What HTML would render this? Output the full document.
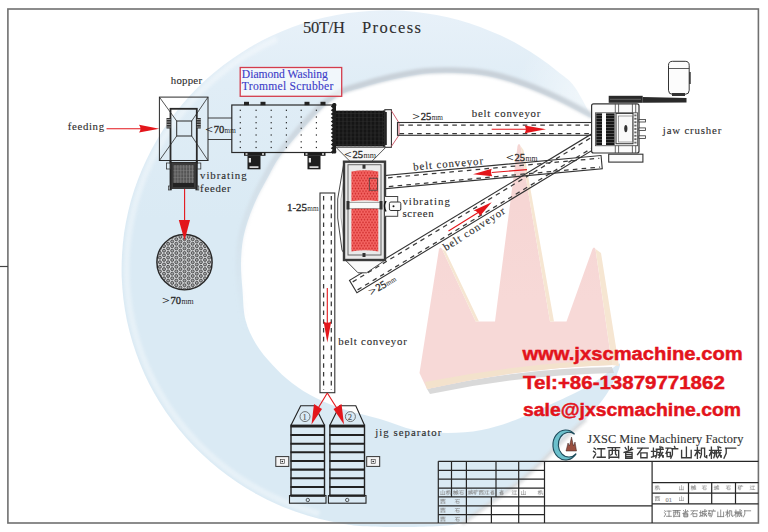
<!DOCTYPE html><html><head><meta charset="utf-8"><style>html,body{margin:0;padding:0;background:#ffffff;overflow:hidden}svg{display:block}</style></head><body><svg width="768" height="532" viewBox="0 0 768 532"><defs><filter id="blur1" x="-5%" y="-5%" width="110%" height="110%"><feGaussianBlur stdDeviation="1.5"/></filter><filter id="blur05"><feGaussianBlur stdDeviation="0.4"/></filter></defs><rect width="768" height="532" fill="#ffffff"/><linearGradient id="crg" x1="0" y1="10" x2="0" y2="220" gradientUnits="userSpaceOnUse"><stop offset="0" stop-color="#e8f1f9"/><stop offset="0.35" stop-color="#e0edf6"/><stop offset="1" stop-color="#daeaf4"/></linearGradient>
<path d="M592.0,118.0 C589.2,112.7 580.1,94.1 574.3,86.4 C568.6,78.6 563.5,76.2 557.7,71.4 C552.0,66.7 546.0,62.1 539.8,57.9 C533.7,53.6 527.3,49.6 520.8,45.9 C514.3,42.2 507.7,38.7 500.9,35.6 C494.1,32.4 487.1,29.5 480.1,26.9 C473.0,24.3 465.8,22.0 458.6,20.0 C451.3,18.0 444.0,16.3 436.6,14.9 C429.2,13.6 421.7,12.5 414.2,11.7 C406.7,10.9 399.2,10.5 391.6,10.3 C384.1,10.2 376.5,10.4 369.0,10.9 C361.5,11.4 354.0,12.2 346.5,13.3 C339.1,14.4 331.7,15.8 324.3,17.5 C317.0,19.3 309.8,21.3 302.6,23.6 C295.5,26.0 288.4,28.6 281.5,31.5 C274.6,34.4 267.8,37.6 261.1,41.1 C254.5,44.6 248.0,48.4 241.7,52.4 C235.4,56.4 229.2,60.7 223.3,65.2 C217.4,69.7 211.6,74.5 206.1,79.5 C200.6,84.5 195.3,89.8 190.2,95.2 C185.1,100.7 180.3,106.4 175.8,112.2 C171.2,118.1 166.9,124.1 162.8,130.3 C158.8,136.5 155.0,142.9 151.5,149.4 C148.1,156.0 144.9,162.6 142.0,169.4 C139.1,176.2 136.5,183.1 134.2,190.1 C131.9,197.1 129.9,204.3 128.2,211.4 C126.5,218.6 125.2,225.8 124.1,233.1 C123.1,240.4 122.4,247.7 122.0,255.1 C121.6,262.4 121.5,269.8 121.7,277.1 C122.0,284.5 122.5,291.8 123.4,299.1 C124.3,306.4 125.5,313.7 127.0,320.9 C128.6,328.1 130.4,335.3 132.5,342.3 C134.7,349.4 137.1,356.3 139.9,363.2 C142.6,370.0 145.7,376.8 149.0,383.4 C152.4,389.9 156.0,396.4 159.9,402.7 C163.8,409.0 168.0,415.1 172.4,421.1 C176.9,427.0 181.6,432.8 186.5,438.3 C191.5,443.9 196.7,449.2 202.1,454.3 C207.5,459.5 213.1,464.4 219.0,469.0 C224.8,473.7 230.9,478.1 237.1,482.2 C243.3,486.4 249.7,490.3 256.3,493.9 C262.8,497.5 269.6,500.8 276.4,503.9 C283.3,507.0 290.3,509.7 297.4,512.2 C304.5,514.7 311.7,516.9 319.0,518.7 C326.3,520.6 333.7,522.2 341.1,523.5 C348.5,524.7 352.9,525.7 363.5,526.3 C374.2,526.9 392.3,527.1 405.0,527.0 C417.7,526.9 430.5,526.7 440.0,526.0 C449.5,525.3 456.3,524.8 462.0,523.0 C467.7,521.2 468.3,519.0 474.0,515.0 C479.7,511.0 488.6,504.3 496.0,499.0 C503.4,493.7 510.7,489.3 518.5,483.0 C526.3,476.7 535.6,468.2 543.0,461.0 C550.4,453.8 555.8,447.0 563.0,440.0 C570.2,433.0 578.5,427.0 586.0,419.0 C593.5,411.0 602.3,401.2 608.0,392.0 C613.7,382.8 620.8,366.7 620.0,364.0 C619.2,361.3 609.6,371.8 603.4,376.0 C597.2,380.2 592.0,384.2 583.0,389.0 C574.0,393.8 560.6,399.8 549.3,405.0 C538.0,410.2 526.7,415.8 515.4,420.0 C504.1,424.2 492.9,427.8 481.6,430.0 C470.3,432.2 459.0,433.0 447.7,433.0 C436.4,433.0 425.3,432.3 414.0,430.0 C402.7,427.7 391.3,422.3 380.0,419.0 C368.7,415.7 356.7,413.5 346.0,410.0 C335.3,406.5 325.0,402.5 316.0,398.0 C307.0,393.5 299.2,388.5 292.0,383.0 C284.8,377.5 278.6,371.5 272.6,365.0 C266.6,358.5 260.5,351.5 256.0,344.0 C251.5,336.5 247.8,329.0 245.5,320.0 C243.2,311.0 243.2,299.6 242.5,290.0 C241.8,280.4 240.8,271.9 241.0,262.7 C241.2,253.4 241.9,243.9 244.0,234.5 C246.1,225.1 249.6,215.4 253.5,206.0 C257.4,196.6 262.3,187.3 267.5,178.0 C272.7,168.7 274.4,162.8 284.8,150.0 C295.2,137.2 316.6,112.1 330.0,101.5 C343.4,90.9 350.3,91.0 365.0,86.5 C379.7,82.0 403.3,76.8 418.0,74.5 C432.7,72.2 441.3,72.5 453.0,72.8 C464.7,73.0 476.3,73.8 488.0,76.0 C499.7,78.2 511.2,81.8 523.0,86.0 C534.8,90.2 547.2,95.7 558.5,101.0 C569.8,106.3 585.4,115.2 591.0,118.0 C596.6,120.8 594.8,123.3 592.0,118.0Z" fill="url(#crg)"/>
<path d="M462,524 L474,515 L496,499 L518.5,483 L543,461 L563,440 L586,419" fill="none" stroke="#d8dadc" stroke-width="4" opacity="0.9" filter="url(#blur1)"/>
<radialGradient id="tipf" cx="585" cy="95" r="70" gradientUnits="userSpaceOnUse"><stop offset="0" stop-color="#ffffff" stop-opacity="0.55"/><stop offset="1" stop-color="#ffffff" stop-opacity="0"/></radialGradient>
<circle cx="585" cy="95" r="70" fill="url(#tipf)"/>
<path d="M276.7,39.1 C274.4,40.2 267.2,43.6 262.5,46.0 C257.9,48.5 253.3,51.1 248.8,53.8 C244.3,56.6 239.9,59.4 235.6,62.4 C231.3,65.4 227.1,68.5 223.0,71.8 C218.9,75.0 214.8,78.4 210.9,81.9 C207.0,85.4 203.2,89.0 199.6,92.7 C195.9,96.4 192.3,100.2 188.9,104.2 C185.5,108.1 182.1,112.1 179.0,116.2 C175.8,120.4 172.7,124.6 169.8,128.9 C166.9,133.2 164.1,137.6 161.4,142.1 C158.8,146.5 156.3,151.1 153.9,155.7 C151.6,160.3 149.3,165.0 147.3,169.7 C145.2,174.5 143.3,179.3 141.5,184.2 C139.7,189.0 138.1,194.0 136.7,198.9 C135.2,203.9 133.9,208.9 132.8,213.9 C131.6,219.0 130.6,224.0 129.8,229.1 C129.0,234.2 128.3,239.4 127.8,244.5 C127.3,249.6 126.9,254.8 126.8,260.0 C126.6,265.1 126.6,270.3 126.7,275.4 C126.8,280.6 127.1,285.8 127.6,290.9 C128.1,296.0 128.7,301.2 129.5,306.3 C130.2,311.4 131.2,316.5 132.3,321.5 C133.4,326.6 134.6,331.6 136.1,336.5 C137.5,341.5 139.0,346.5 140.8,351.3 C142.5,356.2 144.4,361.0 146.4,365.8 C148.4,370.6 150.6,375.3 152.9,379.9 C155.2,384.6 157.7,389.1 160.3,393.6 C162.9,398.1 165.7,402.5 168.5,406.9 C171.4,411.2 174.5,415.4 177.6,419.6 C180.7,423.7 184.0,427.8 187.4,431.7 C190.8,435.7 194.4,439.6 198.0,443.3 C201.6,447.0 205.4,450.7 209.3,454.2 C213.1,457.7 217.1,461.1 221.2,464.4 C225.3,467.7 229.5,470.9 233.8,473.9 C238.1,476.9 242.4,479.8 246.9,482.6 C251.4,485.4 255.9,488.0 260.5,490.5 C265.2,493.0 269.9,495.4 274.7,497.6 C279.4,499.8 284.3,501.9 289.2,503.8 C294.1,505.8 299.1,507.6 304.1,509.2 C309.1,510.8 316.8,512.9 319.3,513.7" fill="none" stroke="#ffffff" stroke-width="6" opacity="0.35" filter="url(#blur1)"/>
<linearGradient id="shg" x1="0" y1="330" x2="0" y2="90" gradientUnits="userSpaceOnUse"><stop offset="0" stop-color="#c8d0d8" stop-opacity="0"/><stop offset="0.55" stop-color="#c8d0d8" stop-opacity="0.35"/><stop offset="1" stop-color="#c8d0d8" stop-opacity="1"/></linearGradient>
<path d="M245.5,330.3 C244.6,323.7 241.2,301.5 240.0,290.3 C238.8,279.0 238.2,272.0 238.5,262.6 C238.8,253.2 239.4,243.6 241.6,234.0 C243.7,224.4 247.2,214.6 251.2,205.0 C255.2,195.5 260.0,186.2 265.3,176.8 C270.6,167.3 272.3,161.3 282.9,148.4 C293.4,135.5 314.9,110.3 328.4,99.5 C342.0,88.8 349.4,88.7 364.3,84.1 C379.1,79.5 402.8,74.3 417.6,72.0 C432.4,69.7 441.2,70.0 453.1,70.3 C464.9,70.6 476.7,71.3 488.5,73.5 C500.3,75.8 512.0,79.4 523.8,83.6 C535.7,87.8 548.2,93.4 559.6,98.7 C571.0,104.1 586.7,112.9 592.2,115.8" fill="none" stroke="url(#shg)" stroke-width="6" filter="url(#blur1)"/>
<path d="M427,389 Q520,368 612,367 L614,373 Q520,375 430,394 Z" fill="#cfcfcf" opacity="0.8"/>
<linearGradient id="cg" x1="0" y1="140" x2="0" y2="300" gradientUnits="userSpaceOnUse"><stop offset="0" stop-color="#f5d6d4"/><stop offset="0.4" stop-color="#f6d6d4"/><stop offset="1" stop-color="#f7d9d7"/></linearGradient>
<path d="M419.5,373 L439,249 Q440.5,246 442,249 L475.7,321.4 L495,321.4 L517.5,146 Q519,142 520.5,146 L550,321.4 L566.5,321.4 L592.5,249 Q594,246 595.5,249 L612,365 Q520,368 427,389 Z" fill="url(#cg)"/>
<path d="M595.5,249 L601,253 L619,366 L612,365 Z M520.5,146 L523.5,150 L554,321.4 L550,321.4 Z M442,249 L445.5,251 L479,321.4 L475.7,321.4 Z" fill="#f6e6d2"/>
<path d="M427,389 Q520,368 612,365 L612,360 Q520,363 425,382 Z" fill="#f3e2cc"/>
<rect x="7.9" y="9" width="750.5" height="514" fill="none" stroke="#707070" stroke-width="1.6"/>
<line x1="0" y1="266.5" x2="8" y2="266.5" stroke="#444" stroke-width="1.2"/>
<text x="303.0" y="32.8" font-family="Liberation Serif" font-size="16.5" fill="#2e2e2e" stroke="#2e2e2e" stroke-width="0.12" font-weight="normal" textLength="42.0" lengthAdjust="spacing" >50T/H</text>
<text x="362.0" y="32.8" font-family="Liberation Serif" font-size="16.5" fill="#2e2e2e" stroke="#2e2e2e" stroke-width="0.12" font-weight="normal" textLength="59.0" lengthAdjust="spacing" >Process</text>
<text x="67.7" y="129.8" font-family="Liberation Serif" font-size="10.8" fill="#2e2e2e" stroke="#2e2e2e" stroke-width="0.12" font-weight="normal" textLength="36.4" lengthAdjust="spacing" >feeding</text>
<line x1="106.5" y1="128.8" x2="142" y2="128.8" stroke="#e3161b" stroke-width="1.1"/>
<path d="M139,124.8 L159.3,128.8 L139,132.6 Q142,128.8 139,124.8Z" fill="#e3161b"/>
<text x="170.8" y="84.2" font-family="Liberation Serif" font-size="10.8" fill="#2e2e2e" stroke="#2e2e2e" stroke-width="0.12" font-weight="normal" textLength="31.2" lengthAdjust="spacing" >hopper</text>
<g stroke="#2a2a2a" fill="none">
<rect x="159.4" y="97.1" width="48.6" height="63.4" stroke-width="1"/>
<line x1="159.4" y1="97.1" x2="176.7" y2="121" stroke-width="0.8"/><line x1="208" y1="97.1" x2="191.7" y2="121" stroke-width="0.8"/>
<line x1="159.4" y1="160.5" x2="176.7" y2="136" stroke-width="0.8"/><line x1="208" y1="160.5" x2="191.7" y2="136" stroke-width="0.8"/>
<rect x="170.5" y="108.8" width="26.3" height="54" stroke-width="1.8"/>
<rect x="176.7" y="121" width="15" height="15" stroke-width="1"/>
</g>
<rect x="166.5" y="118" width="4" height="10.5" fill="#333"/>
<line x1="166.5" y1="119.5" x2="170.5" y2="119.5" stroke="#ddd" stroke-width="0.6"/>
<line x1="166.5" y1="122.0" x2="170.5" y2="122.0" stroke="#ddd" stroke-width="0.6"/>
<line x1="166.5" y1="124.5" x2="170.5" y2="124.5" stroke="#ddd" stroke-width="0.6"/>
<line x1="166.5" y1="127.0" x2="170.5" y2="127.0" stroke="#ddd" stroke-width="0.6"/>
<rect x="196.8" y="118" width="4" height="10.5" fill="#333"/>
<line x1="196.8" y1="119.5" x2="200.8" y2="119.5" stroke="#ddd" stroke-width="0.6"/>
<line x1="196.8" y1="122.0" x2="200.8" y2="122.0" stroke="#ddd" stroke-width="0.6"/>
<line x1="196.8" y1="124.5" x2="200.8" y2="124.5" stroke="#ddd" stroke-width="0.6"/>
<line x1="196.8" y1="127.0" x2="200.8" y2="127.0" stroke="#ddd" stroke-width="0.6"/>
<line x1="208" y1="118" x2="232" y2="118" stroke="#2a2a2a" stroke-width="0.9"/>
<line x1="208" y1="139.5" x2="232" y2="139.5" stroke="#2a2a2a" stroke-width="0.9"/>
<text x="205.2" y="132.8" font-family="Liberation Serif" font-weight="bold" font-size="11.0" fill="#2e2e2e" textLength="7.8" lengthAdjust="spacingAndGlyphs">&lt;</text>
<text x="213.7" y="132.8" font-family="Liberation Serif" font-size="10.5" fill="#2e2e2e" stroke="#2e2e2e" stroke-width="0.35" textLength="10.6" lengthAdjust="spacingAndGlyphs">70</text>
<text x="224.6" y="132.8" font-family="Liberation Serif" font-size="7.6" fill="#2e2e2e" textLength="11.1" lengthAdjust="spacingAndGlyphs">mm</text>
<rect x="170.5" y="163" width="26.3" height="26" fill="#3a3a3a"/>
<rect x="173.5" y="165" width="20.3" height="21.5" fill="#555"/>
<line x1="175.0" y1="165" x2="175.0" y2="186.5" stroke="#999" stroke-width="0.5"/>
<line x1="177.9" y1="165" x2="177.9" y2="186.5" stroke="#999" stroke-width="0.5"/>
<line x1="180.8" y1="165" x2="180.8" y2="186.5" stroke="#999" stroke-width="0.5"/>
<line x1="183.7" y1="165" x2="183.7" y2="186.5" stroke="#999" stroke-width="0.5"/>
<line x1="186.6" y1="165" x2="186.6" y2="186.5" stroke="#999" stroke-width="0.5"/>
<line x1="189.5" y1="165" x2="189.5" y2="186.5" stroke="#999" stroke-width="0.5"/>
<line x1="192.4" y1="165" x2="192.4" y2="186.5" stroke="#999" stroke-width="0.5"/>
<line x1="173.5" y1="167.0" x2="193.8" y2="167.0" stroke="#888" stroke-width="0.4"/>
<line x1="173.5" y1="170.5" x2="193.8" y2="170.5" stroke="#888" stroke-width="0.4"/>
<line x1="173.5" y1="174.0" x2="193.8" y2="174.0" stroke="#888" stroke-width="0.4"/>
<line x1="173.5" y1="177.5" x2="193.8" y2="177.5" stroke="#888" stroke-width="0.4"/>
<line x1="173.5" y1="181.0" x2="193.8" y2="181.0" stroke="#888" stroke-width="0.4"/>
<line x1="173.5" y1="184.5" x2="193.8" y2="184.5" stroke="#888" stroke-width="0.4"/>
<rect x="173" y="183" width="21" height="4" fill="#222"/>
<line x1="170.5" y1="160" x2="170.5" y2="190" stroke="#222" stroke-width="1.8"/><line x1="196.8" y1="160" x2="196.8" y2="190" stroke="#222" stroke-width="1.8"/>
<rect x="166.5" y="163" width="4" height="6" fill="none" stroke="#333" stroke-width="0.8"/><rect x="196.8" y="163" width="4" height="6" fill="none" stroke="#333" stroke-width="0.8"/>
<rect x="168.5" y="186" width="3" height="4" fill="none" stroke="#333" stroke-width="0.7"/><rect x="195.8" y="186" width="3" height="4" fill="none" stroke="#333" stroke-width="0.7"/>
<text x="200.1" y="179.3" font-family="Liberation Serif" font-size="10.8" fill="#2e2e2e" stroke="#2e2e2e" stroke-width="0.12" font-weight="normal" textLength="46.5" lengthAdjust="spacing" >vibrating</text>
<text x="200.1" y="192.0" font-family="Liberation Serif" font-size="10.8" fill="#2e2e2e" stroke="#2e2e2e" stroke-width="0.12" font-weight="normal" textLength="30.5" lengthAdjust="spacing" >feeder</text>
<circle cx="184.5" cy="262.2" r="27.6" fill="#d4d6d8" stroke="#2a2a2a" stroke-width="1.5"/>
<clipPath id="mc"><circle cx="184.5" cy="262.2" r="27"/></clipPath><g clip-path="url(#mc)">
<circle cx="151.7" cy="225.4" r="1.5" fill="#a4a6a8" stroke="#333" stroke-width="0.75"/>
<circle cx="151.7" cy="230.0" r="1.5" fill="#a4a6a8" stroke="#333" stroke-width="0.75"/>
<circle cx="151.7" cy="234.6" r="1.5" fill="#a4a6a8" stroke="#333" stroke-width="0.75"/>
<circle cx="151.7" cy="239.2" r="1.5" fill="#a4a6a8" stroke="#333" stroke-width="0.75"/>
<circle cx="151.7" cy="243.8" r="1.5" fill="#a4a6a8" stroke="#333" stroke-width="0.75"/>
<circle cx="151.7" cy="248.4" r="1.5" fill="#a4a6a8" stroke="#333" stroke-width="0.75"/>
<circle cx="151.7" cy="253.0" r="1.5" fill="#a4a6a8" stroke="#333" stroke-width="0.75"/>
<circle cx="151.7" cy="257.6" r="1.5" fill="#a4a6a8" stroke="#333" stroke-width="0.75"/>
<circle cx="151.7" cy="262.2" r="1.5" fill="#a4a6a8" stroke="#333" stroke-width="0.75"/>
<circle cx="151.7" cy="266.8" r="1.5" fill="#a4a6a8" stroke="#333" stroke-width="0.75"/>
<circle cx="151.7" cy="271.4" r="1.5" fill="#a4a6a8" stroke="#333" stroke-width="0.75"/>
<circle cx="151.7" cy="276.0" r="1.5" fill="#a4a6a8" stroke="#333" stroke-width="0.75"/>
<circle cx="151.7" cy="280.6" r="1.5" fill="#a4a6a8" stroke="#333" stroke-width="0.75"/>
<circle cx="151.7" cy="285.2" r="1.5" fill="#a4a6a8" stroke="#333" stroke-width="0.75"/>
<circle cx="151.7" cy="289.8" r="1.5" fill="#a4a6a8" stroke="#333" stroke-width="0.75"/>
<circle cx="151.7" cy="294.4" r="1.5" fill="#a4a6a8" stroke="#333" stroke-width="0.75"/>
<circle cx="151.7" cy="299.0" r="1.5" fill="#a4a6a8" stroke="#333" stroke-width="0.75"/>
<circle cx="155.8" cy="227.7" r="1.5" fill="#a4a6a8" stroke="#333" stroke-width="0.75"/>
<circle cx="155.8" cy="232.3" r="1.5" fill="#a4a6a8" stroke="#333" stroke-width="0.75"/>
<circle cx="155.8" cy="236.9" r="1.5" fill="#a4a6a8" stroke="#333" stroke-width="0.75"/>
<circle cx="155.8" cy="241.5" r="1.5" fill="#a4a6a8" stroke="#333" stroke-width="0.75"/>
<circle cx="155.8" cy="246.1" r="1.5" fill="#a4a6a8" stroke="#333" stroke-width="0.75"/>
<circle cx="155.8" cy="250.7" r="1.5" fill="#a4a6a8" stroke="#333" stroke-width="0.75"/>
<circle cx="155.8" cy="255.3" r="1.5" fill="#a4a6a8" stroke="#333" stroke-width="0.75"/>
<circle cx="155.8" cy="259.9" r="1.5" fill="#a4a6a8" stroke="#333" stroke-width="0.75"/>
<circle cx="155.8" cy="264.5" r="1.5" fill="#a4a6a8" stroke="#333" stroke-width="0.75"/>
<circle cx="155.8" cy="269.1" r="1.5" fill="#a4a6a8" stroke="#333" stroke-width="0.75"/>
<circle cx="155.8" cy="273.7" r="1.5" fill="#a4a6a8" stroke="#333" stroke-width="0.75"/>
<circle cx="155.8" cy="278.3" r="1.5" fill="#a4a6a8" stroke="#333" stroke-width="0.75"/>
<circle cx="155.8" cy="282.9" r="1.5" fill="#a4a6a8" stroke="#333" stroke-width="0.75"/>
<circle cx="155.8" cy="287.5" r="1.5" fill="#a4a6a8" stroke="#333" stroke-width="0.75"/>
<circle cx="155.8" cy="292.1" r="1.5" fill="#a4a6a8" stroke="#333" stroke-width="0.75"/>
<circle cx="155.8" cy="296.7" r="1.5" fill="#a4a6a8" stroke="#333" stroke-width="0.75"/>
<circle cx="155.8" cy="301.3" r="1.5" fill="#a4a6a8" stroke="#333" stroke-width="0.75"/>
<circle cx="159.9" cy="225.4" r="1.5" fill="#a4a6a8" stroke="#333" stroke-width="0.75"/>
<circle cx="159.9" cy="230.0" r="1.5" fill="#a4a6a8" stroke="#333" stroke-width="0.75"/>
<circle cx="159.9" cy="234.6" r="1.5" fill="#a4a6a8" stroke="#333" stroke-width="0.75"/>
<circle cx="159.9" cy="239.2" r="1.5" fill="#a4a6a8" stroke="#333" stroke-width="0.75"/>
<circle cx="159.9" cy="243.8" r="1.5" fill="#a4a6a8" stroke="#333" stroke-width="0.75"/>
<circle cx="159.9" cy="248.4" r="1.5" fill="#a4a6a8" stroke="#333" stroke-width="0.75"/>
<circle cx="159.9" cy="253.0" r="1.5" fill="#a4a6a8" stroke="#333" stroke-width="0.75"/>
<circle cx="159.9" cy="257.6" r="1.5" fill="#a4a6a8" stroke="#333" stroke-width="0.75"/>
<circle cx="159.9" cy="262.2" r="1.5" fill="#a4a6a8" stroke="#333" stroke-width="0.75"/>
<circle cx="159.9" cy="266.8" r="1.5" fill="#a4a6a8" stroke="#333" stroke-width="0.75"/>
<circle cx="159.9" cy="271.4" r="1.5" fill="#a4a6a8" stroke="#333" stroke-width="0.75"/>
<circle cx="159.9" cy="276.0" r="1.5" fill="#a4a6a8" stroke="#333" stroke-width="0.75"/>
<circle cx="159.9" cy="280.6" r="1.5" fill="#a4a6a8" stroke="#333" stroke-width="0.75"/>
<circle cx="159.9" cy="285.2" r="1.5" fill="#a4a6a8" stroke="#333" stroke-width="0.75"/>
<circle cx="159.9" cy="289.8" r="1.5" fill="#a4a6a8" stroke="#333" stroke-width="0.75"/>
<circle cx="159.9" cy="294.4" r="1.5" fill="#a4a6a8" stroke="#333" stroke-width="0.75"/>
<circle cx="159.9" cy="299.0" r="1.5" fill="#a4a6a8" stroke="#333" stroke-width="0.75"/>
<circle cx="164.0" cy="227.7" r="1.5" fill="#a4a6a8" stroke="#333" stroke-width="0.75"/>
<circle cx="164.0" cy="232.3" r="1.5" fill="#a4a6a8" stroke="#333" stroke-width="0.75"/>
<circle cx="164.0" cy="236.9" r="1.5" fill="#a4a6a8" stroke="#333" stroke-width="0.75"/>
<circle cx="164.0" cy="241.5" r="1.5" fill="#a4a6a8" stroke="#333" stroke-width="0.75"/>
<circle cx="164.0" cy="246.1" r="1.5" fill="#a4a6a8" stroke="#333" stroke-width="0.75"/>
<circle cx="164.0" cy="250.7" r="1.5" fill="#a4a6a8" stroke="#333" stroke-width="0.75"/>
<circle cx="164.0" cy="255.3" r="1.5" fill="#a4a6a8" stroke="#333" stroke-width="0.75"/>
<circle cx="164.0" cy="259.9" r="1.5" fill="#a4a6a8" stroke="#333" stroke-width="0.75"/>
<circle cx="164.0" cy="264.5" r="1.5" fill="#a4a6a8" stroke="#333" stroke-width="0.75"/>
<circle cx="164.0" cy="269.1" r="1.5" fill="#a4a6a8" stroke="#333" stroke-width="0.75"/>
<circle cx="164.0" cy="273.7" r="1.5" fill="#a4a6a8" stroke="#333" stroke-width="0.75"/>
<circle cx="164.0" cy="278.3" r="1.5" fill="#a4a6a8" stroke="#333" stroke-width="0.75"/>
<circle cx="164.0" cy="282.9" r="1.5" fill="#a4a6a8" stroke="#333" stroke-width="0.75"/>
<circle cx="164.0" cy="287.5" r="1.5" fill="#a4a6a8" stroke="#333" stroke-width="0.75"/>
<circle cx="164.0" cy="292.1" r="1.5" fill="#a4a6a8" stroke="#333" stroke-width="0.75"/>
<circle cx="164.0" cy="296.7" r="1.5" fill="#a4a6a8" stroke="#333" stroke-width="0.75"/>
<circle cx="164.0" cy="301.3" r="1.5" fill="#a4a6a8" stroke="#333" stroke-width="0.75"/>
<circle cx="168.1" cy="225.4" r="1.5" fill="#a4a6a8" stroke="#333" stroke-width="0.75"/>
<circle cx="168.1" cy="230.0" r="1.5" fill="#a4a6a8" stroke="#333" stroke-width="0.75"/>
<circle cx="168.1" cy="234.6" r="1.5" fill="#a4a6a8" stroke="#333" stroke-width="0.75"/>
<circle cx="168.1" cy="239.2" r="1.5" fill="#a4a6a8" stroke="#333" stroke-width="0.75"/>
<circle cx="168.1" cy="243.8" r="1.5" fill="#a4a6a8" stroke="#333" stroke-width="0.75"/>
<circle cx="168.1" cy="248.4" r="1.5" fill="#a4a6a8" stroke="#333" stroke-width="0.75"/>
<circle cx="168.1" cy="253.0" r="1.5" fill="#a4a6a8" stroke="#333" stroke-width="0.75"/>
<circle cx="168.1" cy="257.6" r="1.5" fill="#a4a6a8" stroke="#333" stroke-width="0.75"/>
<circle cx="168.1" cy="262.2" r="1.5" fill="#a4a6a8" stroke="#333" stroke-width="0.75"/>
<circle cx="168.1" cy="266.8" r="1.5" fill="#a4a6a8" stroke="#333" stroke-width="0.75"/>
<circle cx="168.1" cy="271.4" r="1.5" fill="#a4a6a8" stroke="#333" stroke-width="0.75"/>
<circle cx="168.1" cy="276.0" r="1.5" fill="#a4a6a8" stroke="#333" stroke-width="0.75"/>
<circle cx="168.1" cy="280.6" r="1.5" fill="#a4a6a8" stroke="#333" stroke-width="0.75"/>
<circle cx="168.1" cy="285.2" r="1.5" fill="#a4a6a8" stroke="#333" stroke-width="0.75"/>
<circle cx="168.1" cy="289.8" r="1.5" fill="#a4a6a8" stroke="#333" stroke-width="0.75"/>
<circle cx="168.1" cy="294.4" r="1.5" fill="#a4a6a8" stroke="#333" stroke-width="0.75"/>
<circle cx="168.1" cy="299.0" r="1.5" fill="#a4a6a8" stroke="#333" stroke-width="0.75"/>
<circle cx="172.2" cy="227.7" r="1.5" fill="#a4a6a8" stroke="#333" stroke-width="0.75"/>
<circle cx="172.2" cy="232.3" r="1.5" fill="#a4a6a8" stroke="#333" stroke-width="0.75"/>
<circle cx="172.2" cy="236.9" r="1.5" fill="#a4a6a8" stroke="#333" stroke-width="0.75"/>
<circle cx="172.2" cy="241.5" r="1.5" fill="#a4a6a8" stroke="#333" stroke-width="0.75"/>
<circle cx="172.2" cy="246.1" r="1.5" fill="#a4a6a8" stroke="#333" stroke-width="0.75"/>
<circle cx="172.2" cy="250.7" r="1.5" fill="#a4a6a8" stroke="#333" stroke-width="0.75"/>
<circle cx="172.2" cy="255.3" r="1.5" fill="#a4a6a8" stroke="#333" stroke-width="0.75"/>
<circle cx="172.2" cy="259.9" r="1.5" fill="#a4a6a8" stroke="#333" stroke-width="0.75"/>
<circle cx="172.2" cy="264.5" r="1.5" fill="#a4a6a8" stroke="#333" stroke-width="0.75"/>
<circle cx="172.2" cy="269.1" r="1.5" fill="#a4a6a8" stroke="#333" stroke-width="0.75"/>
<circle cx="172.2" cy="273.7" r="1.5" fill="#a4a6a8" stroke="#333" stroke-width="0.75"/>
<circle cx="172.2" cy="278.3" r="1.5" fill="#a4a6a8" stroke="#333" stroke-width="0.75"/>
<circle cx="172.2" cy="282.9" r="1.5" fill="#a4a6a8" stroke="#333" stroke-width="0.75"/>
<circle cx="172.2" cy="287.5" r="1.5" fill="#a4a6a8" stroke="#333" stroke-width="0.75"/>
<circle cx="172.2" cy="292.1" r="1.5" fill="#a4a6a8" stroke="#333" stroke-width="0.75"/>
<circle cx="172.2" cy="296.7" r="1.5" fill="#a4a6a8" stroke="#333" stroke-width="0.75"/>
<circle cx="172.2" cy="301.3" r="1.5" fill="#a4a6a8" stroke="#333" stroke-width="0.75"/>
<circle cx="176.3" cy="225.4" r="1.5" fill="#a4a6a8" stroke="#333" stroke-width="0.75"/>
<circle cx="176.3" cy="230.0" r="1.5" fill="#a4a6a8" stroke="#333" stroke-width="0.75"/>
<circle cx="176.3" cy="234.6" r="1.5" fill="#a4a6a8" stroke="#333" stroke-width="0.75"/>
<circle cx="176.3" cy="239.2" r="1.5" fill="#a4a6a8" stroke="#333" stroke-width="0.75"/>
<circle cx="176.3" cy="243.8" r="1.5" fill="#a4a6a8" stroke="#333" stroke-width="0.75"/>
<circle cx="176.3" cy="248.4" r="1.5" fill="#a4a6a8" stroke="#333" stroke-width="0.75"/>
<circle cx="176.3" cy="253.0" r="1.5" fill="#a4a6a8" stroke="#333" stroke-width="0.75"/>
<circle cx="176.3" cy="257.6" r="1.5" fill="#a4a6a8" stroke="#333" stroke-width="0.75"/>
<circle cx="176.3" cy="262.2" r="1.5" fill="#a4a6a8" stroke="#333" stroke-width="0.75"/>
<circle cx="176.3" cy="266.8" r="1.5" fill="#a4a6a8" stroke="#333" stroke-width="0.75"/>
<circle cx="176.3" cy="271.4" r="1.5" fill="#a4a6a8" stroke="#333" stroke-width="0.75"/>
<circle cx="176.3" cy="276.0" r="1.5" fill="#a4a6a8" stroke="#333" stroke-width="0.75"/>
<circle cx="176.3" cy="280.6" r="1.5" fill="#a4a6a8" stroke="#333" stroke-width="0.75"/>
<circle cx="176.3" cy="285.2" r="1.5" fill="#a4a6a8" stroke="#333" stroke-width="0.75"/>
<circle cx="176.3" cy="289.8" r="1.5" fill="#a4a6a8" stroke="#333" stroke-width="0.75"/>
<circle cx="176.3" cy="294.4" r="1.5" fill="#a4a6a8" stroke="#333" stroke-width="0.75"/>
<circle cx="176.3" cy="299.0" r="1.5" fill="#a4a6a8" stroke="#333" stroke-width="0.75"/>
<circle cx="180.4" cy="227.7" r="1.5" fill="#a4a6a8" stroke="#333" stroke-width="0.75"/>
<circle cx="180.4" cy="232.3" r="1.5" fill="#a4a6a8" stroke="#333" stroke-width="0.75"/>
<circle cx="180.4" cy="236.9" r="1.5" fill="#a4a6a8" stroke="#333" stroke-width="0.75"/>
<circle cx="180.4" cy="241.5" r="1.5" fill="#a4a6a8" stroke="#333" stroke-width="0.75"/>
<circle cx="180.4" cy="246.1" r="1.5" fill="#a4a6a8" stroke="#333" stroke-width="0.75"/>
<circle cx="180.4" cy="250.7" r="1.5" fill="#a4a6a8" stroke="#333" stroke-width="0.75"/>
<circle cx="180.4" cy="255.3" r="1.5" fill="#a4a6a8" stroke="#333" stroke-width="0.75"/>
<circle cx="180.4" cy="259.9" r="1.5" fill="#a4a6a8" stroke="#333" stroke-width="0.75"/>
<circle cx="180.4" cy="264.5" r="1.5" fill="#a4a6a8" stroke="#333" stroke-width="0.75"/>
<circle cx="180.4" cy="269.1" r="1.5" fill="#a4a6a8" stroke="#333" stroke-width="0.75"/>
<circle cx="180.4" cy="273.7" r="1.5" fill="#a4a6a8" stroke="#333" stroke-width="0.75"/>
<circle cx="180.4" cy="278.3" r="1.5" fill="#a4a6a8" stroke="#333" stroke-width="0.75"/>
<circle cx="180.4" cy="282.9" r="1.5" fill="#a4a6a8" stroke="#333" stroke-width="0.75"/>
<circle cx="180.4" cy="287.5" r="1.5" fill="#a4a6a8" stroke="#333" stroke-width="0.75"/>
<circle cx="180.4" cy="292.1" r="1.5" fill="#a4a6a8" stroke="#333" stroke-width="0.75"/>
<circle cx="180.4" cy="296.7" r="1.5" fill="#a4a6a8" stroke="#333" stroke-width="0.75"/>
<circle cx="180.4" cy="301.3" r="1.5" fill="#a4a6a8" stroke="#333" stroke-width="0.75"/>
<circle cx="184.5" cy="225.4" r="1.5" fill="#a4a6a8" stroke="#333" stroke-width="0.75"/>
<circle cx="184.5" cy="230.0" r="1.5" fill="#a4a6a8" stroke="#333" stroke-width="0.75"/>
<circle cx="184.5" cy="234.6" r="1.5" fill="#a4a6a8" stroke="#333" stroke-width="0.75"/>
<circle cx="184.5" cy="239.2" r="1.5" fill="#a4a6a8" stroke="#333" stroke-width="0.75"/>
<circle cx="184.5" cy="243.8" r="1.5" fill="#a4a6a8" stroke="#333" stroke-width="0.75"/>
<circle cx="184.5" cy="248.4" r="1.5" fill="#a4a6a8" stroke="#333" stroke-width="0.75"/>
<circle cx="184.5" cy="253.0" r="1.5" fill="#a4a6a8" stroke="#333" stroke-width="0.75"/>
<circle cx="184.5" cy="257.6" r="1.5" fill="#a4a6a8" stroke="#333" stroke-width="0.75"/>
<circle cx="184.5" cy="262.2" r="1.5" fill="#a4a6a8" stroke="#333" stroke-width="0.75"/>
<circle cx="184.5" cy="266.8" r="1.5" fill="#a4a6a8" stroke="#333" stroke-width="0.75"/>
<circle cx="184.5" cy="271.4" r="1.5" fill="#a4a6a8" stroke="#333" stroke-width="0.75"/>
<circle cx="184.5" cy="276.0" r="1.5" fill="#a4a6a8" stroke="#333" stroke-width="0.75"/>
<circle cx="184.5" cy="280.6" r="1.5" fill="#a4a6a8" stroke="#333" stroke-width="0.75"/>
<circle cx="184.5" cy="285.2" r="1.5" fill="#a4a6a8" stroke="#333" stroke-width="0.75"/>
<circle cx="184.5" cy="289.8" r="1.5" fill="#a4a6a8" stroke="#333" stroke-width="0.75"/>
<circle cx="184.5" cy="294.4" r="1.5" fill="#a4a6a8" stroke="#333" stroke-width="0.75"/>
<circle cx="184.5" cy="299.0" r="1.5" fill="#a4a6a8" stroke="#333" stroke-width="0.75"/>
<circle cx="188.6" cy="227.7" r="1.5" fill="#a4a6a8" stroke="#333" stroke-width="0.75"/>
<circle cx="188.6" cy="232.3" r="1.5" fill="#a4a6a8" stroke="#333" stroke-width="0.75"/>
<circle cx="188.6" cy="236.9" r="1.5" fill="#a4a6a8" stroke="#333" stroke-width="0.75"/>
<circle cx="188.6" cy="241.5" r="1.5" fill="#a4a6a8" stroke="#333" stroke-width="0.75"/>
<circle cx="188.6" cy="246.1" r="1.5" fill="#a4a6a8" stroke="#333" stroke-width="0.75"/>
<circle cx="188.6" cy="250.7" r="1.5" fill="#a4a6a8" stroke="#333" stroke-width="0.75"/>
<circle cx="188.6" cy="255.3" r="1.5" fill="#a4a6a8" stroke="#333" stroke-width="0.75"/>
<circle cx="188.6" cy="259.9" r="1.5" fill="#a4a6a8" stroke="#333" stroke-width="0.75"/>
<circle cx="188.6" cy="264.5" r="1.5" fill="#a4a6a8" stroke="#333" stroke-width="0.75"/>
<circle cx="188.6" cy="269.1" r="1.5" fill="#a4a6a8" stroke="#333" stroke-width="0.75"/>
<circle cx="188.6" cy="273.7" r="1.5" fill="#a4a6a8" stroke="#333" stroke-width="0.75"/>
<circle cx="188.6" cy="278.3" r="1.5" fill="#a4a6a8" stroke="#333" stroke-width="0.75"/>
<circle cx="188.6" cy="282.9" r="1.5" fill="#a4a6a8" stroke="#333" stroke-width="0.75"/>
<circle cx="188.6" cy="287.5" r="1.5" fill="#a4a6a8" stroke="#333" stroke-width="0.75"/>
<circle cx="188.6" cy="292.1" r="1.5" fill="#a4a6a8" stroke="#333" stroke-width="0.75"/>
<circle cx="188.6" cy="296.7" r="1.5" fill="#a4a6a8" stroke="#333" stroke-width="0.75"/>
<circle cx="188.6" cy="301.3" r="1.5" fill="#a4a6a8" stroke="#333" stroke-width="0.75"/>
<circle cx="192.7" cy="225.4" r="1.5" fill="#a4a6a8" stroke="#333" stroke-width="0.75"/>
<circle cx="192.7" cy="230.0" r="1.5" fill="#a4a6a8" stroke="#333" stroke-width="0.75"/>
<circle cx="192.7" cy="234.6" r="1.5" fill="#a4a6a8" stroke="#333" stroke-width="0.75"/>
<circle cx="192.7" cy="239.2" r="1.5" fill="#a4a6a8" stroke="#333" stroke-width="0.75"/>
<circle cx="192.7" cy="243.8" r="1.5" fill="#a4a6a8" stroke="#333" stroke-width="0.75"/>
<circle cx="192.7" cy="248.4" r="1.5" fill="#a4a6a8" stroke="#333" stroke-width="0.75"/>
<circle cx="192.7" cy="253.0" r="1.5" fill="#a4a6a8" stroke="#333" stroke-width="0.75"/>
<circle cx="192.7" cy="257.6" r="1.5" fill="#a4a6a8" stroke="#333" stroke-width="0.75"/>
<circle cx="192.7" cy="262.2" r="1.5" fill="#a4a6a8" stroke="#333" stroke-width="0.75"/>
<circle cx="192.7" cy="266.8" r="1.5" fill="#a4a6a8" stroke="#333" stroke-width="0.75"/>
<circle cx="192.7" cy="271.4" r="1.5" fill="#a4a6a8" stroke="#333" stroke-width="0.75"/>
<circle cx="192.7" cy="276.0" r="1.5" fill="#a4a6a8" stroke="#333" stroke-width="0.75"/>
<circle cx="192.7" cy="280.6" r="1.5" fill="#a4a6a8" stroke="#333" stroke-width="0.75"/>
<circle cx="192.7" cy="285.2" r="1.5" fill="#a4a6a8" stroke="#333" stroke-width="0.75"/>
<circle cx="192.7" cy="289.8" r="1.5" fill="#a4a6a8" stroke="#333" stroke-width="0.75"/>
<circle cx="192.7" cy="294.4" r="1.5" fill="#a4a6a8" stroke="#333" stroke-width="0.75"/>
<circle cx="192.7" cy="299.0" r="1.5" fill="#a4a6a8" stroke="#333" stroke-width="0.75"/>
<circle cx="196.8" cy="227.7" r="1.5" fill="#a4a6a8" stroke="#333" stroke-width="0.75"/>
<circle cx="196.8" cy="232.3" r="1.5" fill="#a4a6a8" stroke="#333" stroke-width="0.75"/>
<circle cx="196.8" cy="236.9" r="1.5" fill="#a4a6a8" stroke="#333" stroke-width="0.75"/>
<circle cx="196.8" cy="241.5" r="1.5" fill="#a4a6a8" stroke="#333" stroke-width="0.75"/>
<circle cx="196.8" cy="246.1" r="1.5" fill="#a4a6a8" stroke="#333" stroke-width="0.75"/>
<circle cx="196.8" cy="250.7" r="1.5" fill="#a4a6a8" stroke="#333" stroke-width="0.75"/>
<circle cx="196.8" cy="255.3" r="1.5" fill="#a4a6a8" stroke="#333" stroke-width="0.75"/>
<circle cx="196.8" cy="259.9" r="1.5" fill="#a4a6a8" stroke="#333" stroke-width="0.75"/>
<circle cx="196.8" cy="264.5" r="1.5" fill="#a4a6a8" stroke="#333" stroke-width="0.75"/>
<circle cx="196.8" cy="269.1" r="1.5" fill="#a4a6a8" stroke="#333" stroke-width="0.75"/>
<circle cx="196.8" cy="273.7" r="1.5" fill="#a4a6a8" stroke="#333" stroke-width="0.75"/>
<circle cx="196.8" cy="278.3" r="1.5" fill="#a4a6a8" stroke="#333" stroke-width="0.75"/>
<circle cx="196.8" cy="282.9" r="1.5" fill="#a4a6a8" stroke="#333" stroke-width="0.75"/>
<circle cx="196.8" cy="287.5" r="1.5" fill="#a4a6a8" stroke="#333" stroke-width="0.75"/>
<circle cx="196.8" cy="292.1" r="1.5" fill="#a4a6a8" stroke="#333" stroke-width="0.75"/>
<circle cx="196.8" cy="296.7" r="1.5" fill="#a4a6a8" stroke="#333" stroke-width="0.75"/>
<circle cx="196.8" cy="301.3" r="1.5" fill="#a4a6a8" stroke="#333" stroke-width="0.75"/>
<circle cx="200.9" cy="225.4" r="1.5" fill="#a4a6a8" stroke="#333" stroke-width="0.75"/>
<circle cx="200.9" cy="230.0" r="1.5" fill="#a4a6a8" stroke="#333" stroke-width="0.75"/>
<circle cx="200.9" cy="234.6" r="1.5" fill="#a4a6a8" stroke="#333" stroke-width="0.75"/>
<circle cx="200.9" cy="239.2" r="1.5" fill="#a4a6a8" stroke="#333" stroke-width="0.75"/>
<circle cx="200.9" cy="243.8" r="1.5" fill="#a4a6a8" stroke="#333" stroke-width="0.75"/>
<circle cx="200.9" cy="248.4" r="1.5" fill="#a4a6a8" stroke="#333" stroke-width="0.75"/>
<circle cx="200.9" cy="253.0" r="1.5" fill="#a4a6a8" stroke="#333" stroke-width="0.75"/>
<circle cx="200.9" cy="257.6" r="1.5" fill="#a4a6a8" stroke="#333" stroke-width="0.75"/>
<circle cx="200.9" cy="262.2" r="1.5" fill="#a4a6a8" stroke="#333" stroke-width="0.75"/>
<circle cx="200.9" cy="266.8" r="1.5" fill="#a4a6a8" stroke="#333" stroke-width="0.75"/>
<circle cx="200.9" cy="271.4" r="1.5" fill="#a4a6a8" stroke="#333" stroke-width="0.75"/>
<circle cx="200.9" cy="276.0" r="1.5" fill="#a4a6a8" stroke="#333" stroke-width="0.75"/>
<circle cx="200.9" cy="280.6" r="1.5" fill="#a4a6a8" stroke="#333" stroke-width="0.75"/>
<circle cx="200.9" cy="285.2" r="1.5" fill="#a4a6a8" stroke="#333" stroke-width="0.75"/>
<circle cx="200.9" cy="289.8" r="1.5" fill="#a4a6a8" stroke="#333" stroke-width="0.75"/>
<circle cx="200.9" cy="294.4" r="1.5" fill="#a4a6a8" stroke="#333" stroke-width="0.75"/>
<circle cx="200.9" cy="299.0" r="1.5" fill="#a4a6a8" stroke="#333" stroke-width="0.75"/>
<circle cx="205.0" cy="227.7" r="1.5" fill="#a4a6a8" stroke="#333" stroke-width="0.75"/>
<circle cx="205.0" cy="232.3" r="1.5" fill="#a4a6a8" stroke="#333" stroke-width="0.75"/>
<circle cx="205.0" cy="236.9" r="1.5" fill="#a4a6a8" stroke="#333" stroke-width="0.75"/>
<circle cx="205.0" cy="241.5" r="1.5" fill="#a4a6a8" stroke="#333" stroke-width="0.75"/>
<circle cx="205.0" cy="246.1" r="1.5" fill="#a4a6a8" stroke="#333" stroke-width="0.75"/>
<circle cx="205.0" cy="250.7" r="1.5" fill="#a4a6a8" stroke="#333" stroke-width="0.75"/>
<circle cx="205.0" cy="255.3" r="1.5" fill="#a4a6a8" stroke="#333" stroke-width="0.75"/>
<circle cx="205.0" cy="259.9" r="1.5" fill="#a4a6a8" stroke="#333" stroke-width="0.75"/>
<circle cx="205.0" cy="264.5" r="1.5" fill="#a4a6a8" stroke="#333" stroke-width="0.75"/>
<circle cx="205.0" cy="269.1" r="1.5" fill="#a4a6a8" stroke="#333" stroke-width="0.75"/>
<circle cx="205.0" cy="273.7" r="1.5" fill="#a4a6a8" stroke="#333" stroke-width="0.75"/>
<circle cx="205.0" cy="278.3" r="1.5" fill="#a4a6a8" stroke="#333" stroke-width="0.75"/>
<circle cx="205.0" cy="282.9" r="1.5" fill="#a4a6a8" stroke="#333" stroke-width="0.75"/>
<circle cx="205.0" cy="287.5" r="1.5" fill="#a4a6a8" stroke="#333" stroke-width="0.75"/>
<circle cx="205.0" cy="292.1" r="1.5" fill="#a4a6a8" stroke="#333" stroke-width="0.75"/>
<circle cx="205.0" cy="296.7" r="1.5" fill="#a4a6a8" stroke="#333" stroke-width="0.75"/>
<circle cx="205.0" cy="301.3" r="1.5" fill="#a4a6a8" stroke="#333" stroke-width="0.75"/>
<circle cx="209.1" cy="225.4" r="1.5" fill="#a4a6a8" stroke="#333" stroke-width="0.75"/>
<circle cx="209.1" cy="230.0" r="1.5" fill="#a4a6a8" stroke="#333" stroke-width="0.75"/>
<circle cx="209.1" cy="234.6" r="1.5" fill="#a4a6a8" stroke="#333" stroke-width="0.75"/>
<circle cx="209.1" cy="239.2" r="1.5" fill="#a4a6a8" stroke="#333" stroke-width="0.75"/>
<circle cx="209.1" cy="243.8" r="1.5" fill="#a4a6a8" stroke="#333" stroke-width="0.75"/>
<circle cx="209.1" cy="248.4" r="1.5" fill="#a4a6a8" stroke="#333" stroke-width="0.75"/>
<circle cx="209.1" cy="253.0" r="1.5" fill="#a4a6a8" stroke="#333" stroke-width="0.75"/>
<circle cx="209.1" cy="257.6" r="1.5" fill="#a4a6a8" stroke="#333" stroke-width="0.75"/>
<circle cx="209.1" cy="262.2" r="1.5" fill="#a4a6a8" stroke="#333" stroke-width="0.75"/>
<circle cx="209.1" cy="266.8" r="1.5" fill="#a4a6a8" stroke="#333" stroke-width="0.75"/>
<circle cx="209.1" cy="271.4" r="1.5" fill="#a4a6a8" stroke="#333" stroke-width="0.75"/>
<circle cx="209.1" cy="276.0" r="1.5" fill="#a4a6a8" stroke="#333" stroke-width="0.75"/>
<circle cx="209.1" cy="280.6" r="1.5" fill="#a4a6a8" stroke="#333" stroke-width="0.75"/>
<circle cx="209.1" cy="285.2" r="1.5" fill="#a4a6a8" stroke="#333" stroke-width="0.75"/>
<circle cx="209.1" cy="289.8" r="1.5" fill="#a4a6a8" stroke="#333" stroke-width="0.75"/>
<circle cx="209.1" cy="294.4" r="1.5" fill="#a4a6a8" stroke="#333" stroke-width="0.75"/>
<circle cx="209.1" cy="299.0" r="1.5" fill="#a4a6a8" stroke="#333" stroke-width="0.75"/>
<circle cx="213.2" cy="227.7" r="1.5" fill="#a4a6a8" stroke="#333" stroke-width="0.75"/>
<circle cx="213.2" cy="232.3" r="1.5" fill="#a4a6a8" stroke="#333" stroke-width="0.75"/>
<circle cx="213.2" cy="236.9" r="1.5" fill="#a4a6a8" stroke="#333" stroke-width="0.75"/>
<circle cx="213.2" cy="241.5" r="1.5" fill="#a4a6a8" stroke="#333" stroke-width="0.75"/>
<circle cx="213.2" cy="246.1" r="1.5" fill="#a4a6a8" stroke="#333" stroke-width="0.75"/>
<circle cx="213.2" cy="250.7" r="1.5" fill="#a4a6a8" stroke="#333" stroke-width="0.75"/>
<circle cx="213.2" cy="255.3" r="1.5" fill="#a4a6a8" stroke="#333" stroke-width="0.75"/>
<circle cx="213.2" cy="259.9" r="1.5" fill="#a4a6a8" stroke="#333" stroke-width="0.75"/>
<circle cx="213.2" cy="264.5" r="1.5" fill="#a4a6a8" stroke="#333" stroke-width="0.75"/>
<circle cx="213.2" cy="269.1" r="1.5" fill="#a4a6a8" stroke="#333" stroke-width="0.75"/>
<circle cx="213.2" cy="273.7" r="1.5" fill="#a4a6a8" stroke="#333" stroke-width="0.75"/>
<circle cx="213.2" cy="278.3" r="1.5" fill="#a4a6a8" stroke="#333" stroke-width="0.75"/>
<circle cx="213.2" cy="282.9" r="1.5" fill="#a4a6a8" stroke="#333" stroke-width="0.75"/>
<circle cx="213.2" cy="287.5" r="1.5" fill="#a4a6a8" stroke="#333" stroke-width="0.75"/>
<circle cx="213.2" cy="292.1" r="1.5" fill="#a4a6a8" stroke="#333" stroke-width="0.75"/>
<circle cx="213.2" cy="296.7" r="1.5" fill="#a4a6a8" stroke="#333" stroke-width="0.75"/>
<circle cx="213.2" cy="301.3" r="1.5" fill="#a4a6a8" stroke="#333" stroke-width="0.75"/>
<circle cx="217.3" cy="225.4" r="1.5" fill="#a4a6a8" stroke="#333" stroke-width="0.75"/>
<circle cx="217.3" cy="230.0" r="1.5" fill="#a4a6a8" stroke="#333" stroke-width="0.75"/>
<circle cx="217.3" cy="234.6" r="1.5" fill="#a4a6a8" stroke="#333" stroke-width="0.75"/>
<circle cx="217.3" cy="239.2" r="1.5" fill="#a4a6a8" stroke="#333" stroke-width="0.75"/>
<circle cx="217.3" cy="243.8" r="1.5" fill="#a4a6a8" stroke="#333" stroke-width="0.75"/>
<circle cx="217.3" cy="248.4" r="1.5" fill="#a4a6a8" stroke="#333" stroke-width="0.75"/>
<circle cx="217.3" cy="253.0" r="1.5" fill="#a4a6a8" stroke="#333" stroke-width="0.75"/>
<circle cx="217.3" cy="257.6" r="1.5" fill="#a4a6a8" stroke="#333" stroke-width="0.75"/>
<circle cx="217.3" cy="262.2" r="1.5" fill="#a4a6a8" stroke="#333" stroke-width="0.75"/>
<circle cx="217.3" cy="266.8" r="1.5" fill="#a4a6a8" stroke="#333" stroke-width="0.75"/>
<circle cx="217.3" cy="271.4" r="1.5" fill="#a4a6a8" stroke="#333" stroke-width="0.75"/>
<circle cx="217.3" cy="276.0" r="1.5" fill="#a4a6a8" stroke="#333" stroke-width="0.75"/>
<circle cx="217.3" cy="280.6" r="1.5" fill="#a4a6a8" stroke="#333" stroke-width="0.75"/>
<circle cx="217.3" cy="285.2" r="1.5" fill="#a4a6a8" stroke="#333" stroke-width="0.75"/>
<circle cx="217.3" cy="289.8" r="1.5" fill="#a4a6a8" stroke="#333" stroke-width="0.75"/>
<circle cx="217.3" cy="294.4" r="1.5" fill="#a4a6a8" stroke="#333" stroke-width="0.75"/>
<circle cx="217.3" cy="299.0" r="1.5" fill="#a4a6a8" stroke="#333" stroke-width="0.75"/>
</g>
<line x1="184.6" y1="189" x2="184.6" y2="223" stroke="#e3161b" stroke-width="1.1"/>
<path d="M178.8,220 L190,220 L184.6,240.5 Z" fill="#e3161b"/>
<text x="162.0" y="304.2" font-family="Liberation Serif" font-weight="bold" font-size="11.0" fill="#2e2e2e" textLength="7.8" lengthAdjust="spacingAndGlyphs">&gt;</text>
<text x="170.5" y="304.2" font-family="Liberation Serif" font-size="10.5" fill="#2e2e2e" stroke="#2e2e2e" stroke-width="0.35" textLength="10.6" lengthAdjust="spacingAndGlyphs">70</text>
<text x="181.4" y="304.2" font-family="Liberation Serif" font-size="7.6" fill="#2e2e2e" textLength="12.2" lengthAdjust="spacingAndGlyphs">mm</text>
<rect x="240.2" y="67.5" width="101.5" height="28.8" fill="#ffffff" fill-opacity="0.55" stroke="#d43c4c" stroke-width="1.3"/>
<text x="241.8" y="78.4" font-family="Liberation Serif" font-size="11.6" fill="#3c3cc8" stroke="#3c3cc8" stroke-width="0.12" font-weight="normal" textLength="86.0" lengthAdjust="spacing" >Diamond Washing</text>
<text x="241.8" y="89.9" font-family="Liberation Serif" font-size="11.6" fill="#3c3cc8" stroke="#3c3cc8" stroke-width="0.12" font-weight="normal" textLength="91.5" lengthAdjust="spacing" >Trommel Scrubber</text>
<rect x="231.8" y="105" width="101.5" height="47.5" fill="none" stroke="#2a2a2a" stroke-width="1.2"/>
<rect x="239.7" y="109.7" width="1.2" height="1.2" fill="#222"/>
<rect x="239.7" y="116.4" width="1.2" height="1.2" fill="#222"/>
<rect x="239.7" y="122.1" width="1.2" height="1.2" fill="#222"/>
<rect x="239.7" y="127.7" width="1.2" height="1.2" fill="#222"/>
<rect x="239.7" y="134.4" width="1.2" height="1.2" fill="#222"/>
<rect x="239.7" y="141.2" width="1.2" height="1.2" fill="#222"/>
<rect x="239.7" y="146.9" width="1.2" height="1.2" fill="#222"/>
<rect x="255.5" y="109.7" width="1.2" height="1.2" fill="#222"/>
<rect x="255.5" y="116.4" width="1.2" height="1.2" fill="#222"/>
<rect x="255.5" y="122.1" width="1.2" height="1.2" fill="#222"/>
<rect x="255.5" y="127.7" width="1.2" height="1.2" fill="#222"/>
<rect x="255.5" y="134.4" width="1.2" height="1.2" fill="#222"/>
<rect x="255.5" y="141.2" width="1.2" height="1.2" fill="#222"/>
<rect x="255.5" y="146.9" width="1.2" height="1.2" fill="#222"/>
<rect x="270.6" y="109.7" width="1.2" height="1.2" fill="#222"/>
<rect x="270.6" y="116.4" width="1.2" height="1.2" fill="#222"/>
<rect x="270.6" y="122.1" width="1.2" height="1.2" fill="#222"/>
<rect x="270.6" y="127.7" width="1.2" height="1.2" fill="#222"/>
<rect x="270.6" y="134.4" width="1.2" height="1.2" fill="#222"/>
<rect x="270.6" y="141.2" width="1.2" height="1.2" fill="#222"/>
<rect x="270.6" y="146.9" width="1.2" height="1.2" fill="#222"/>
<rect x="285.8" y="109.7" width="1.2" height="1.2" fill="#222"/>
<rect x="285.8" y="116.4" width="1.2" height="1.2" fill="#222"/>
<rect x="285.8" y="122.1" width="1.2" height="1.2" fill="#222"/>
<rect x="285.8" y="127.7" width="1.2" height="1.2" fill="#222"/>
<rect x="285.8" y="134.4" width="1.2" height="1.2" fill="#222"/>
<rect x="285.8" y="141.2" width="1.2" height="1.2" fill="#222"/>
<rect x="285.8" y="146.9" width="1.2" height="1.2" fill="#222"/>
<rect x="300.6" y="109.7" width="1.2" height="1.2" fill="#222"/>
<rect x="300.6" y="116.4" width="1.2" height="1.2" fill="#222"/>
<rect x="300.6" y="122.1" width="1.2" height="1.2" fill="#222"/>
<rect x="300.6" y="127.7" width="1.2" height="1.2" fill="#222"/>
<rect x="300.6" y="134.4" width="1.2" height="1.2" fill="#222"/>
<rect x="300.6" y="141.2" width="1.2" height="1.2" fill="#222"/>
<rect x="300.6" y="146.9" width="1.2" height="1.2" fill="#222"/>
<rect x="315.8" y="109.7" width="1.2" height="1.2" fill="#222"/>
<rect x="315.8" y="116.4" width="1.2" height="1.2" fill="#222"/>
<rect x="315.8" y="122.1" width="1.2" height="1.2" fill="#222"/>
<rect x="315.8" y="127.7" width="1.2" height="1.2" fill="#222"/>
<rect x="315.8" y="134.4" width="1.2" height="1.2" fill="#222"/>
<rect x="315.8" y="141.2" width="1.2" height="1.2" fill="#222"/>
<rect x="315.8" y="146.9" width="1.2" height="1.2" fill="#222"/>
<rect x="244.0" y="101.8" width="5" height="3.4" fill="#222"/>
<rect x="260.5" y="101.8" width="5" height="3.4" fill="#222"/>
<rect x="304.5" y="101.8" width="5" height="3.4" fill="#222"/>
<rect x="320.5" y="101.8" width="5" height="3.4" fill="#222"/>
<rect x="244.0" y="152.3" width="21.5" height="3.5" fill="#1e1e1e"/>
<rect x="245.5" y="153.2" width="2" height="1.6" fill="#ddd"/><rect x="262.0" y="153.2" width="2" height="1.6" fill="#ddd"/>
<rect x="247.5" y="155.5" width="13" height="13.8" fill="#1e1e1e"/>
<rect x="248.8" y="158" width="2.2" height="4.5" fill="#e0e0e0"/>
<rect x="249.5" y="166.3" width="9" height="1.6" fill="#e8e8e8"/>
<rect x="304.0" y="152.3" width="21.5" height="3.5" fill="#1e1e1e"/>
<rect x="305.5" y="153.2" width="2" height="1.6" fill="#ddd"/><rect x="322.0" y="153.2" width="2" height="1.6" fill="#ddd"/>
<rect x="307.5" y="155.5" width="13" height="13.8" fill="#1e1e1e"/>
<rect x="308.8" y="158" width="2.2" height="4.5" fill="#e0e0e0"/>
<rect x="309.5" y="166.3" width="9" height="1.6" fill="#e8e8e8"/>
<path d="M336,104 L333,104 L330.8,106.4 L333,108.3 L330.8,110.2 L333,112.1 L330.8,114.0 L333,115.9 L330.8,117.8 L333,119.7 L330.8,121.6 L333,123.5 L330.8,125.4 L333,127.3 L330.8,129.2 L333,131.1 L330.8,133.0 L333,134.9 L330.8,136.8 L333,138.7 L330.8,140.6 L333,142.5 L330.8,144.4 L333,146.3 L330.8,148.2 L333,150.1 L330.8,152.0 L333,153.9 L333,152.5 L336,152.5 Z" fill="#1e1e1e"/>
<rect x="332.3" y="103" width="4" height="4" rx="1.5" fill="#1e1e1e"/><rect x="332.3" y="149.5" width="4" height="4" rx="1.5" fill="#1e1e1e"/>
<rect x="336" y="110.7" width="49.8" height="35.7" fill="#151515"/>
<line x1="339.0" y1="110.7" x2="339.0" y2="146.4" stroke="#3a3a3a" stroke-width="0.6"/>
<line x1="343.0" y1="110.7" x2="343.0" y2="146.4" stroke="#3a3a3a" stroke-width="0.6"/>
<line x1="347.0" y1="110.7" x2="347.0" y2="146.4" stroke="#3a3a3a" stroke-width="0.6"/>
<line x1="351.0" y1="110.7" x2="351.0" y2="146.4" stroke="#3a3a3a" stroke-width="0.6"/>
<line x1="355.0" y1="110.7" x2="355.0" y2="146.4" stroke="#3a3a3a" stroke-width="0.6"/>
<line x1="359.0" y1="110.7" x2="359.0" y2="146.4" stroke="#3a3a3a" stroke-width="0.6"/>
<line x1="363.0" y1="110.7" x2="363.0" y2="146.4" stroke="#3a3a3a" stroke-width="0.6"/>
<line x1="367.0" y1="110.7" x2="367.0" y2="146.4" stroke="#3a3a3a" stroke-width="0.6"/>
<line x1="371.0" y1="110.7" x2="371.0" y2="146.4" stroke="#3a3a3a" stroke-width="0.6"/>
<line x1="375.0" y1="110.7" x2="375.0" y2="146.4" stroke="#3a3a3a" stroke-width="0.6"/>
<line x1="379.0" y1="110.7" x2="379.0" y2="146.4" stroke="#3a3a3a" stroke-width="0.6"/>
<line x1="383.0" y1="110.7" x2="383.0" y2="146.4" stroke="#3a3a3a" stroke-width="0.6"/>
<line x1="336" y1="113.5" x2="385.8" y2="113.5" stroke="#333" stroke-width="0.5"/>
<line x1="336" y1="117.4" x2="385.8" y2="117.4" stroke="#333" stroke-width="0.5"/>
<line x1="336" y1="121.3" x2="385.8" y2="121.3" stroke="#333" stroke-width="0.5"/>
<line x1="336" y1="125.2" x2="385.8" y2="125.2" stroke="#333" stroke-width="0.5"/>
<line x1="336" y1="129.1" x2="385.8" y2="129.1" stroke="#333" stroke-width="0.5"/>
<line x1="336" y1="133.0" x2="385.8" y2="133.0" stroke="#333" stroke-width="0.5"/>
<line x1="336" y1="136.9" x2="385.8" y2="136.9" stroke="#333" stroke-width="0.5"/>
<line x1="336" y1="140.8" x2="385.8" y2="140.8" stroke="#333" stroke-width="0.5"/>
<line x1="336" y1="144.7" x2="385.8" y2="144.7" stroke="#333" stroke-width="0.5"/>
<path d="M383,110.7 L385.5,112.3 L383,113.9 L385.5,115.5 L383,117.1 L385.5,118.7 L383,120.3 L385.5,121.9 L383,123.5 L385.5,125.1 L383,126.7 L385.5,128.3 L383,129.9 L385.5,131.5 L383,133.1 L385.5,134.7 L383,136.3 L385.5,137.9 L383,139.5 L385.5,141.1 L383,142.7 L385.5,144.3 L383,145.9 L385.5,147.5 L383,149.1 " fill="none" stroke="#111" stroke-width="0.8"/>
<rect x="384.8" y="109.7" width="6.6" height="37.6" fill="#fafafa" stroke="#222" stroke-width="1"/>
<rect x="384.8" y="112" width="2" height="33" fill="#222"/>
<path d="M391.4,110.7 L399,122.9 L399,135.1 L391.4,146.4" fill="none" stroke="#d06070" stroke-width="1"/>
<path d="M336,147.3 L385.8,147.3 L370.8,162.4 L351,162.4 Z" fill="#f7f7f7" stroke="#444" stroke-width="0.9"/>
<text x="344.0" y="157.6" font-family="Liberation Serif" font-weight="bold" font-size="11.0" fill="#2e2e2e" textLength="7.8" lengthAdjust="spacingAndGlyphs">&lt;</text>
<text x="352.5" y="157.6" font-family="Liberation Serif" font-size="10.5" fill="#2e2e2e" stroke="#2e2e2e" stroke-width="0.35" textLength="10.6" lengthAdjust="spacingAndGlyphs">25</text>
<text x="363.4" y="157.6" font-family="Liberation Serif" font-size="7.6" fill="#2e2e2e" textLength="12.6" lengthAdjust="spacingAndGlyphs">mm</text>
<g transform="translate(397.50,122.50) rotate(0.000)">
<rect x="0" y="0" width="198.0" height="12.8" fill="none" stroke="#333" stroke-width="1.1"/>
<line x1="2" y1="2.6" x2="196.0" y2="2.6" stroke="#3a3a3a" stroke-width="1.25" stroke-dasharray="4.6,4.2"/>
<line x1="2" y1="11.0" x2="196.0" y2="11.0" stroke="#3a3a3a" stroke-width="1.25" stroke-dasharray="4.6,4.2"/>
</g>
<text x="412.3" y="119.6" font-family="Liberation Serif" font-weight="bold" font-size="11.0" fill="#2e2e2e" textLength="7.8" lengthAdjust="spacingAndGlyphs">&gt;</text>
<text x="420.8" y="119.6" font-family="Liberation Serif" font-size="10.5" fill="#2e2e2e" stroke="#2e2e2e" stroke-width="0.35" textLength="10.6" lengthAdjust="spacingAndGlyphs">25</text>
<text x="431.7" y="119.6" font-family="Liberation Serif" font-size="7.6" fill="#2e2e2e" textLength="11.3" lengthAdjust="spacingAndGlyphs">mm</text>
<text x="471.7" y="117.0" font-family="Liberation Serif" font-size="10.8" fill="#2e2e2e" stroke="#2e2e2e" stroke-width="0.12" font-weight="normal" textLength="68.7" lengthAdjust="spacing" >belt conveyor</text>
<line x1="491.7" y1="129.2" x2="528" y2="129.2" stroke="#e3161b" stroke-width="1.1"/>
<path d="M524.7,125.4 L546,129.2 L524.7,133.2 Q527,129.2 524.7,125.4Z" fill="#e3161b"/>
<g transform="translate(377.00,176.20) rotate(-5.280)">
<rect x="0" y="0" width="225.0" height="13.2" fill="none" stroke="#333" stroke-width="1.1"/>
<line x1="2" y1="2.6" x2="223.0" y2="2.6" stroke="#3a3a3a" stroke-width="1.25" stroke-dasharray="4.6,4.2"/>
<line x1="2" y1="11.4" x2="223.0" y2="11.4" stroke="#3a3a3a" stroke-width="1.25" stroke-dasharray="4.6,4.2"/>
</g>
<g transform="translate(349.50,280.40) rotate(-31.169)">
<rect x="0" y="0" width="283.1" height="14.3" fill="none" stroke="#333" stroke-width="1.1"/>
<line x1="2" y1="2.9" x2="281.1" y2="2.9" stroke="#3a3a3a" stroke-width="1.25" stroke-dasharray="4.6,4.2"/>
<line x1="2" y1="12.3" x2="281.1" y2="12.3" stroke="#3a3a3a" stroke-width="1.25" stroke-dasharray="4.6,4.2"/>
</g>
<rect x="591.6" y="103.8" width="47.4" height="49.2" rx="2" fill="#fbfbfb" stroke="#333" stroke-width="1.2"/>
<rect x="608.7" y="154.2" width="34.2" height="7.9" fill="#fbfbfb" stroke="#333" stroke-width="1.1"/>
<rect x="595.5" y="112.8" width="42.1" height="32.9" fill="none" stroke="#555" stroke-width="0.9"/>
<line x1="615.3" y1="103.8" x2="615.3" y2="112.8" stroke="#444" stroke-width="0.8"/><line x1="615.3" y1="145.7" x2="615.3" y2="153" stroke="#444" stroke-width="0.8"/>
<line x1="618.6" y1="103.8" x2="618.6" y2="112.8" stroke="#444" stroke-width="0.8"/><line x1="618.6" y1="145.7" x2="618.6" y2="153" stroke="#444" stroke-width="0.8"/>
<line x1="632.4" y1="103.8" x2="632.4" y2="112.8" stroke="#444" stroke-width="0.8"/><line x1="632.4" y1="145.7" x2="632.4" y2="153" stroke="#444" stroke-width="0.8"/>
<line x1="635.7" y1="103.8" x2="635.7" y2="112.8" stroke="#444" stroke-width="0.8"/><line x1="635.7" y1="145.7" x2="635.7" y2="153" stroke="#444" stroke-width="0.8"/>
<rect x="596.2" y="113.4" width="5.9" height="31.6" fill="#151515"/>
<rect x="606" y="113.4" width="8.6" height="31.6" fill="#151515"/>
<line x1="596.2" y1="115.5" x2="614.6" y2="115.5" stroke="#888" stroke-width="0.5"/>
<line x1="596.2" y1="118.5" x2="614.6" y2="118.5" stroke="#888" stroke-width="0.5"/>
<line x1="596.2" y1="121.5" x2="614.6" y2="121.5" stroke="#888" stroke-width="0.5"/>
<line x1="596.2" y1="124.5" x2="614.6" y2="124.5" stroke="#888" stroke-width="0.5"/>
<line x1="596.2" y1="127.5" x2="614.6" y2="127.5" stroke="#888" stroke-width="0.5"/>
<line x1="596.2" y1="130.5" x2="614.6" y2="130.5" stroke="#888" stroke-width="0.5"/>
<line x1="596.2" y1="133.5" x2="614.6" y2="133.5" stroke="#888" stroke-width="0.5"/>
<line x1="596.2" y1="136.5" x2="614.6" y2="136.5" stroke="#888" stroke-width="0.5"/>
<line x1="596.2" y1="139.5" x2="614.6" y2="139.5" stroke="#888" stroke-width="0.5"/>
<line x1="596.2" y1="142.5" x2="614.6" y2="142.5" stroke="#888" stroke-width="0.5"/>
<rect x="602.1" y="113.4" width="3.9" height="31.6" fill="#fdfdfd"/>
<rect x="616" y="113.4" width="17" height="30.3" fill="#fafafa" stroke="#333" stroke-width="1"/>
<rect x="618.6" y="116" width="13.8" height="26" fill="none" stroke="#666" stroke-width="0.6"/>
<ellipse cx="625.8" cy="128.6" rx="1.6" ry="3.6" fill="#333"/>
<rect x="634.3" y="114.5" width="2.2" height="1.8" fill="#666"/>
<rect x="634.3" y="117.9" width="2.2" height="1.8" fill="#666"/>
<rect x="634.3" y="121.3" width="2.2" height="1.8" fill="#666"/>
<rect x="634.3" y="124.7" width="2.2" height="1.8" fill="#666"/>
<rect x="634.3" y="128.1" width="2.2" height="1.8" fill="#666"/>
<rect x="634.3" y="131.5" width="2.2" height="1.8" fill="#666"/>
<rect x="634.3" y="134.9" width="2.2" height="1.8" fill="#666"/>
<rect x="634.3" y="138.3" width="2.2" height="1.8" fill="#666"/>
<rect x="634.3" y="141.7" width="2.2" height="1.8" fill="#666"/>
<rect x="639" y="119.4" width="6.5" height="2.6" fill="#fafafa" stroke="#333" stroke-width="0.8"/>
<rect x="639" y="127.9" width="6.5" height="2.6" fill="#fafafa" stroke="#333" stroke-width="0.8"/>
<rect x="639" y="135.8" width="6.5" height="2.6" fill="#fafafa" stroke="#333" stroke-width="0.8"/>
<rect x="608.7" y="95.8" width="34" height="7" fill="#2a2a2a"/>
<line x1="610" y1="99.3" x2="641" y2="99.3" stroke="#888" stroke-width="0.6"/>
<path d="M642.7,97 L686.5,98 L686.5,102.5 L642.7,102.8 Z" fill="#2a2a2a"/>
<rect x="668.5" y="61.3" width="20.7" height="33" rx="4" fill="#fcfcfc" stroke="#333" stroke-width="1"/>
<line x1="668.5" y1="68.5" x2="689.2" y2="68.5" stroke="#333" stroke-width="0.8"/>
<rect x="689.2" y="72" width="1.5" height="12" fill="#333"/>
<rect x="672" y="93" width="13" height="3" fill="#333"/>
<text x="662.8" y="134.2" font-family="Liberation Serif" font-size="10.8" fill="#2e2e2e" stroke="#2e2e2e" stroke-width="0.12" font-weight="normal" textLength="58.5" lengthAdjust="spacing" >jaw crusher</text>
<path d="M344,162 L337.7,199 L337.7,218 L342,250 L349,262" fill="none" stroke="#333" stroke-width="0.9"/><path d="M346,166 L341,199 L341,218 L345,248" fill="none" stroke="#777" stroke-width="0.6"/>
<path d="M345.9,260.6 L358,272.8 L366.6,272.8 L383.7,261.2" fill="#fafafa" stroke="#333" stroke-width="0.9"/>
<rect x="344" y="161.7" width="41" height="98.3" fill="#e9e9e9" stroke="#3a3a3a" stroke-width="2.4"/>
<rect x="348" y="164.7" width="33" height="90.3" fill="none" stroke="#666" stroke-width="1"/>
<pattern id="rd" width="3" height="5.2" patternUnits="userSpaceOnUse"><rect width="3" height="5.2" fill="#f46462"/><circle cx="1.5" cy="1.3" r="0.8" fill="#cc2a2a"/><circle cx="0" cy="3.9" r="0.8" fill="#cc2a2a"/><circle cx="3" cy="3.9" r="0.8" fill="#cc2a2a"/></pattern>
<path d="M351.4,171.5 Q365,169 378.3,171.5 L378.3,201.3 Q365,199 351.4,201.3Z" fill="url(#rd)"/>
<path d="M351.4,208.7 Q365,206 378.3,208.7 L378.3,251.5 Q365,249 351.4,251.5Z" fill="url(#rd)"/>
<rect x="348" y="202.5" width="33" height="5.8" fill="#f8f8f8" stroke="#777" stroke-width="0.6"/><rect x="346.5" y="201" width="3" height="8.5" fill="#333"/><rect x="379.5" y="201" width="3" height="8.5" fill="#333"/>
<rect x="362.5" y="164.7" width="3" height="4" fill="#333"/><rect x="362.5" y="253" width="3" height="4" fill="#333"/>
<rect x="369.3" y="178.2" width="8.3" height="12" fill="none" stroke="#444" stroke-width="0.8"/>
<rect x="384.5" y="196.5" width="13.2" height="19.8" fill="#fafafa" stroke="#444" stroke-width="1"/>
<rect x="389.4" y="202" width="11.4" height="8.5" rx="1.5" fill="#fafafa" stroke="#333" stroke-width="1"/>
<circle cx="393.5" cy="206.3" r="1" fill="#111"/>
<path d="M386,201 Q383,206.3 386,211.5" fill="none" stroke="#111" stroke-width="1.5"/>
<text x="402.4" y="205.4" font-family="Liberation Serif" font-size="10.8" fill="#2e2e2e" stroke="#2e2e2e" stroke-width="0.12" font-weight="normal" textLength="47.4" lengthAdjust="spacing" >vibrating</text>
<text x="402.4" y="217.4" font-family="Liberation Serif" font-size="10.8" fill="#2e2e2e" stroke="#2e2e2e" stroke-width="0.12" font-weight="normal" textLength="31.2" lengthAdjust="spacing" >screen</text>
<rect x="320" y="193" width="14.8" height="199.7" fill="none" stroke="#333" stroke-width="1.1"/>
<line x1="323.6" y1="196" x2="323.6" y2="390" stroke="#3a3a3a" stroke-width="1.25" stroke-dasharray="4.6,4.2"/>
<line x1="331.3" y1="196" x2="331.3" y2="390" stroke="#3a3a3a" stroke-width="1.25" stroke-dasharray="4.6,4.2"/>
<text x="287.0" y="211.2" font-family="Liberation Serif" font-size="10.5" fill="#2e2e2e" stroke="#2e2e2e" stroke-width="0.35" textLength="20.0" lengthAdjust="spacingAndGlyphs">1-25</text>
<text x="307.3" y="211.2" font-family="Liberation Serif" font-size="7.6" fill="#2e2e2e" textLength="11.2" lengthAdjust="spacingAndGlyphs">mm</text>
<line x1="327.3" y1="288" x2="327.3" y2="324" stroke="#e3161b" stroke-width="1.1"/>
<path d="M323.6,321.5 Q327.3,324 331.2,321.5 L327.3,342.6 Z" fill="#e3161b"/>
<text x="338.3" y="345.4" font-family="Liberation Serif" font-size="10.8" fill="#2e2e2e" stroke="#2e2e2e" stroke-width="0.12" font-weight="normal" textLength="68.5" lengthAdjust="spacing" >belt conveyor</text>
<path d="M291.0,425.3 L300.7,405.8 L314.8,405.8 L324.5,425.3" fill="none" stroke="#222" stroke-width="1.1"/>
<rect x="291.0" y="425.3" width="33.5" height="70.3" fill="none" stroke="#222" stroke-width="1.4"/>
<line x1="290.5" y1="426.4" x2="325.0" y2="426.4" stroke="#222" stroke-width="2.1"/>
<line x1="290.5" y1="435.0" x2="325.0" y2="435.0" stroke="#222" stroke-width="2.1"/>
<line x1="290.5" y1="443.7" x2="325.0" y2="443.7" stroke="#222" stroke-width="2.1"/>
<line x1="290.5" y1="452.3" x2="325.0" y2="452.3" stroke="#222" stroke-width="2.1"/>
<line x1="290.5" y1="461.0" x2="325.0" y2="461.0" stroke="#222" stroke-width="2.1"/>
<line x1="290.5" y1="469.6" x2="325.0" y2="469.6" stroke="#222" stroke-width="2.1"/>
<line x1="290.5" y1="478.3" x2="325.0" y2="478.3" stroke="#222" stroke-width="2.1"/>
<line x1="290.5" y1="487.0" x2="325.0" y2="487.0" stroke="#222" stroke-width="2.1"/>
<line x1="290.5" y1="495.6" x2="325.0" y2="495.6" stroke="#222" stroke-width="2.1"/>
<rect x="289.5" y="495.6" width="36.5" height="7.6" fill="none" stroke="#222" stroke-width="1.1"/>
<circle cx="307.8" cy="500" r="1.7" fill="none" stroke="#333" stroke-width="0.8"/>
<rect x="275.8" y="456.6" width="13" height="9.8" fill="#f5f5f5" stroke="#333" stroke-width="1"/>
<rect x="280.3" y="459.5" width="4" height="4" fill="none" stroke="#333" stroke-width="0.6"/>
<circle cx="282.3" cy="461.5" r="0.8" fill="#111"/>
<path d="M329.9,425.3 L339.6,405.8 L355.8,405.8 L364.5,425.3" fill="none" stroke="#222" stroke-width="1.1"/>
<rect x="329.9" y="425.3" width="34.6" height="70.3" fill="none" stroke="#222" stroke-width="1.4"/>
<line x1="329.4" y1="426.4" x2="365.0" y2="426.4" stroke="#222" stroke-width="2.1"/>
<line x1="329.4" y1="435.0" x2="365.0" y2="435.0" stroke="#222" stroke-width="2.1"/>
<line x1="329.4" y1="443.7" x2="365.0" y2="443.7" stroke="#222" stroke-width="2.1"/>
<line x1="329.4" y1="452.3" x2="365.0" y2="452.3" stroke="#222" stroke-width="2.1"/>
<line x1="329.4" y1="461.0" x2="365.0" y2="461.0" stroke="#222" stroke-width="2.1"/>
<line x1="329.4" y1="469.6" x2="365.0" y2="469.6" stroke="#222" stroke-width="2.1"/>
<line x1="329.4" y1="478.3" x2="365.0" y2="478.3" stroke="#222" stroke-width="2.1"/>
<line x1="329.4" y1="487.0" x2="365.0" y2="487.0" stroke="#222" stroke-width="2.1"/>
<line x1="329.4" y1="495.6" x2="365.0" y2="495.6" stroke="#222" stroke-width="2.1"/>
<rect x="328.4" y="495.6" width="37.6" height="7.6" fill="none" stroke="#222" stroke-width="1.1"/>
<circle cx="347.2" cy="500" r="1.7" fill="none" stroke="#333" stroke-width="0.8"/>
<rect x="366.7" y="456.6" width="13" height="9.8" fill="#f5f5f5" stroke="#333" stroke-width="1"/>
<rect x="371.2" y="459.5" width="4" height="4" fill="none" stroke="#333" stroke-width="0.6"/>
<circle cx="373.2" cy="461.5" r="0.8" fill="#111"/>
<circle cx="305.0" cy="416.6" r="5" fill="none" stroke="#555" stroke-width="0.8"/>
<text x="302.4" y="420.0" font-family="Liberation Serif" font-size="8.5" fill="#555" stroke="#555" stroke-width="0.12" font-weight="normal" >1</text>
<circle cx="350.4" cy="416.6" r="5" fill="none" stroke="#555" stroke-width="0.8"/>
<text x="347.8" y="420.0" font-family="Liberation Serif" font-size="8.5" fill="#555" stroke="#555" stroke-width="0.12" font-weight="normal" >2</text>
<line x1="327.3" y1="393" x2="317" y2="410" stroke="#e3161b" stroke-width="1.1"/>
<line x1="327.3" y1="393" x2="338" y2="410" stroke="#e3161b" stroke-width="1.1"/>
<path d="M311.5,424.5 L314,404 L322,409 Z" fill="#e3161b"/>
<path d="M344,424.5 L333.5,409 L341.5,404 Z" fill="#e3161b"/>
<text x="375.3" y="436.2" font-family="Liberation Serif" font-size="10.8" fill="#2e2e2e" stroke="#2e2e2e" stroke-width="0.12" font-weight="normal" textLength="66.0" lengthAdjust="spacing" >jig separator</text>
<text x="522.4" y="360.4" font-family="Liberation Sans" font-weight="bold" font-size="17.5" fill="#e3131b" stroke="#e3131b" stroke-width="0.45" textLength="220.3" lengthAdjust="spacingAndGlyphs">www.jxscmachine.com</text>
<text x="523.0" y="388.5" font-family="Liberation Sans" font-weight="bold" font-size="17.5" fill="#e3131b" stroke="#e3131b" stroke-width="0.45" textLength="201.8" lengthAdjust="spacingAndGlyphs">Tel:+86-13879771862</text>
<text x="523.0" y="416.3" font-family="Liberation Sans" font-weight="bold" font-size="17.5" fill="#e3131b" stroke="#e3131b" stroke-width="0.45" textLength="218.0" lengthAdjust="spacingAndGlyphs">sale@jxscmachine.com</text>
<path d="M574.6,434.2 A12.8,15 0 1 0 576.2,453.6 A10.6,12.4 0 1 1 574.6,434.2 Z" fill="#6cc0cc" stroke="#1d4a5a" stroke-width="1.1"/>
<path d="M566,451 L568,443 L569.5,446 L571.5,437 L573.5,446 L575,442 L576.5,451 Z" fill="#9a5040" stroke="#3a2020" stroke-width="0.5"/>
<text x="587.3" y="443.3" font-family="Liberation Serif" font-size="12.3" fill="#333" stroke="#333" stroke-width="0.12" font-weight="normal" textLength="156.0" lengthAdjust="spacing" >JXSC Mine Machinery Factory</text>
<text transform="translate(413.5,170.4) rotate(-5.00)" x="0" y="0" font-family="Liberation Serif" font-size="10.8" fill="#2e2e2e" stroke="#2e2e2e" stroke-width="0.12" textLength="70.0" lengthAdjust="spacing">belt conveyor</text>
<text x="506.0" y="160.6" font-family="Liberation Serif" font-weight="bold" font-size="11.0" fill="#2e2e2e" textLength="7.8" lengthAdjust="spacingAndGlyphs">&lt;</text>
<text x="514.5" y="160.6" font-family="Liberation Serif" font-size="10.5" fill="#2e2e2e" stroke="#2e2e2e" stroke-width="0.35" textLength="10.6" lengthAdjust="spacingAndGlyphs">25</text>
<text x="525.4" y="160.6" font-family="Liberation Serif" font-size="7.6" fill="#2e2e2e" textLength="12.1" lengthAdjust="spacingAndGlyphs">mm</text>
<line x1="491.7" y1="172.5" x2="527" y2="169.6" stroke="#e3161b" stroke-width="1.1"/>
<path d="M473,174.2 L491.7,168.8 Q490,172.6 492.3,176.2 Z" fill="#e3161b"/>
<text transform="translate(446.0,251.0) rotate(-32.50)" x="0" y="0" font-family="Liberation Serif" font-size="10.8" fill="#2e2e2e" stroke="#2e2e2e" stroke-width="0.12" textLength="71.0" lengthAdjust="spacing">belt conveyor</text>
<g transform="translate(371.0,296.0) rotate(-31.00)">
<text x="0.0" y="0.0" font-family="Liberation Serif" font-weight="bold" font-size="11.0" fill="#2e2e2e" textLength="7.8" lengthAdjust="spacingAndGlyphs">&gt;</text>
<text x="8.5" y="0.0" font-family="Liberation Serif" font-size="10.5" fill="#2e2e2e" stroke="#2e2e2e" stroke-width="0.35" textLength="10.6" lengthAdjust="spacingAndGlyphs">25</text>
<text x="19.4" y="0.0" font-family="Liberation Serif" font-size="7.6" fill="#2e2e2e" textLength="10.6" lengthAdjust="spacingAndGlyphs">mm</text>
</g>
<line x1="448.5" y1="231" x2="479" y2="212" stroke="#e3161b" stroke-width="1.1"/>
<path d="M491.7,202.2 L473.5,210.5 Q478,211 480,216 Z" fill="#e3161b"/>
<line x1="438.3" y1="461.3" x2="758.4" y2="461.3" stroke="#262626" stroke-width="1.2"/>
<line x1="438.3" y1="470.3" x2="544.5" y2="470.3" stroke="#262626" stroke-width="1.2"/>
<line x1="438.3" y1="479.2" x2="544.5" y2="479.2" stroke="#262626" stroke-width="1.2"/>
<line x1="438.3" y1="488.1" x2="544.5" y2="488.1" stroke="#262626" stroke-width="1.2"/>
<line x1="438.3" y1="496.9" x2="544.5" y2="496.9" stroke="#262626" stroke-width="1.2"/>
<line x1="438.3" y1="514.7" x2="544.5" y2="514.7" stroke="#262626" stroke-width="1.2"/>
<line x1="438.3" y1="505.8" x2="652.1" y2="505.8" stroke="#262626" stroke-width="1.2"/>
<line x1="438.3" y1="461.3" x2="438.3" y2="523.0" stroke="#262626" stroke-width="1.2"/>
<line x1="466.4" y1="461.3" x2="466.4" y2="523.0" stroke="#262626" stroke-width="1.2"/>
<line x1="518.7" y1="461.3" x2="518.7" y2="523.0" stroke="#262626" stroke-width="1.2"/>
<line x1="544.5" y1="461.3" x2="544.5" y2="523.0" stroke="#262626" stroke-width="1.2"/>
<line x1="451.5" y1="461.3" x2="451.5" y2="496.9" stroke="#262626" stroke-width="1.2"/>
<line x1="496.0" y1="461.3" x2="496.0" y2="496.9" stroke="#262626" stroke-width="1.2"/>
<line x1="491.4" y1="496.9" x2="491.4" y2="523.0" stroke="#262626" stroke-width="1.2"/>
<line x1="652.1" y1="461.3" x2="652.1" y2="523.0" stroke="#262626" stroke-width="1.2"/>
<line x1="652.1" y1="482.6" x2="758.4" y2="482.6" stroke="#262626" stroke-width="1.2"/>
<line x1="652.1" y1="493.2" x2="758.4" y2="493.2" stroke="#262626" stroke-width="1.2"/>
<line x1="652.1" y1="503.9" x2="758.4" y2="503.9" stroke="#262626" stroke-width="1.2"/>
<line x1="688.5" y1="482.6" x2="688.5" y2="503.9" stroke="#262626" stroke-width="1.2"/>
<line x1="711.7" y1="482.6" x2="711.7" y2="503.9" stroke="#262626" stroke-width="1.2"/>
<line x1="735.5" y1="482.6" x2="735.5" y2="503.9" stroke="#262626" stroke-width="1.2"/>
<path d="M442.8,490.4 L442.8,494.5 M440.9,491.6 L440.9,494.5 M444.6,491.6 L444.6,494.5 M440.9,494.5 L444.6,494.5 M446.3,491.6 L448.2,491.6 M447.2,490.4 L447.2,494.7 M447.2,491.8 L446.3,493.7 M447.3,492.1 L448.2,492.9 M448.8,490.8 L448.8,493.3 L448.4,494.5 M448.8,490.8 L450.0,490.8 L450.0,494.1 L450.8,494.5 L450.8,493.7 " fill="none" stroke="#8a8a8a" stroke-width="0.55" stroke-linecap="square" stroke-linejoin="miter"/>
<path d="M453.5,491.6 L454.9,491.6 M454.2,490.4 L454.2,494.7 M454.2,491.8 L453.5,493.7 M454.3,492.1 L454.9,492.9 M455.1,491.6 L458.0,491.6 M456.8,490.2 L457.0,492.1 L458.0,494.5 L458.0,493.7 M457.8,492.5 L456.6,494.5 M455.4,492.7 L456.8,492.7 M455.6,491.6 L455.6,493.3 L455.1,494.5 M456.2,491.6 L456.2,494.1 M457.4,490.4 L457.8,490.6 M459.5,490.8 L463.6,490.8 M461.4,490.8 L459.5,493.3 M460.7,492.7 L463.2,492.7 L463.2,494.5 L460.7,494.5 L460.7,492.7 " fill="none" stroke="#8a8a8a" stroke-width="0.55" stroke-linecap="square" stroke-linejoin="miter"/>
<path d="M468.2,491.9 L469.6,491.9 M468.9,490.8 L468.9,493.9 M468.2,494.1 L469.8,493.5 M469.9,491.2 L472.5,491.2 M470.1,491.2 L470.1,493.1 L469.8,494.3 M470.1,492.3 L471.1,492.3 L471.1,493.5 L470.7,493.3 M471.3,490.2 L471.5,492.3 L472.5,494.3 L472.5,493.5 M472.3,492.3 L470.9,494.3 M471.9,490.4 L472.3,490.6 M473.7,490.8 L475.4,490.8 M474.5,490.8 L473.7,492.7 M474.1,492.3 L475.3,492.3 L475.3,493.9 L474.1,493.9 L474.1,492.3 M476.8,490.2 L477.0,490.8 M475.8,491.0 L478.0,491.0 M476.0,491.0 L476.0,493.1 L475.4,494.5 M479.2,490.6 L483.5,490.6 M479.6,491.6 L483.1,491.6 L483.1,494.3 M479.6,491.6 L479.6,494.5 M479.6,494.1 L483.1,494.1 M480.8,490.6 L480.8,492.9 L480.2,493.3 M481.9,490.6 L481.9,492.9 L482.3,493.3 M484.9,490.8 L485.5,491.2 M484.7,491.9 L485.3,492.3 M484.7,494.3 L485.5,492.9 M486.3,491.0 L488.8,491.0 M487.5,491.0 L487.5,494.1 M486.1,494.1 L489.0,494.1 M492.3,490.2 L492.3,491.4 M491.2,490.6 L491.6,491.2 M493.5,490.6 L493.1,491.2 M493.9,491.2 L490.8,492.3 M491.4,492.3 L493.7,492.3 L493.7,494.5 L491.4,494.5 L491.4,492.3 M491.4,493.1 L493.7,493.1 M491.4,493.9 L493.7,493.9 " fill="none" stroke="#8a8a8a" stroke-width="0.55" stroke-linecap="square" stroke-linejoin="miter"/>
<path d="M501.5,490.2 L501.5,491.4 M500.2,490.6 L500.6,491.2 M502.7,490.6 L502.3,491.2 M503.1,491.3 L499.8,492.5 M500.4,492.5 L502.9,492.5 L502.9,494.7 L500.4,494.7 L500.4,492.5 M500.4,493.3 L502.9,493.3 M500.4,494.1 L502.9,494.1 " fill="none" stroke="#8a8a8a" stroke-width="0.55" stroke-linecap="square" stroke-linejoin="miter"/>
<path d="M512.4,490.8 L513.0,491.2 M512.2,492.1 L512.8,492.5 M512.2,494.5 L513.0,493.1 M513.8,491.0 L516.5,491.0 M515.2,491.0 L515.2,494.3 M513.6,494.3 L516.7,494.3 " fill="none" stroke="#8a8a8a" stroke-width="0.55" stroke-linecap="square" stroke-linejoin="miter"/>
<path d="M523.5,490.4 L523.5,494.5 M521.6,491.6 L521.6,494.5 M525.3,491.6 L525.3,494.5 M521.6,494.5 L525.3,494.5 " fill="none" stroke="#8a8a8a" stroke-width="0.55" stroke-linecap="square" stroke-linejoin="miter"/>
<path d="M538.2,491.6 L540.1,491.6 M539.1,490.4 L539.1,494.7 M539.1,491.8 L538.2,493.7 M539.2,492.1 L540.1,492.9 M540.7,490.8 L540.7,493.3 L540.3,494.5 M540.7,490.8 L541.9,490.8 L541.9,494.1 L542.7,494.5 L542.7,493.7 " fill="none" stroke="#8a8a8a" stroke-width="0.55" stroke-linecap="square" stroke-linejoin="miter"/>
<path d="M440.7,499.4 L445.2,499.4 M441.1,500.4 L444.8,500.4 L444.8,503.3 M441.1,500.4 L441.1,503.5 M441.1,503.1 L444.8,503.1 M442.3,499.4 L442.3,501.9 L441.7,502.3 M443.6,499.4 L443.6,501.9 L444.0,502.3 " fill="none" stroke="#8a8a8a" stroke-width="0.55" stroke-linecap="square" stroke-linejoin="miter"/>
<path d="M455.4,499.6 L459.5,499.6 M457.3,499.6 L455.4,502.1 M456.6,501.5 L459.1,501.5 L459.1,503.3 L456.6,503.3 L456.6,501.5 " fill="none" stroke="#8a8a8a" stroke-width="0.55" stroke-linecap="square" stroke-linejoin="miter"/>
<path d="M440.7,508.3 L445.2,508.3 M441.1,509.3 L444.8,509.3 L444.8,512.2 M441.1,509.3 L441.1,512.4 M441.1,512.0 L444.8,512.0 M442.3,508.3 L442.3,510.8 L441.7,511.2 M443.6,508.3 L443.6,510.8 L444.0,511.2 " fill="none" stroke="#8a8a8a" stroke-width="0.55" stroke-linecap="square" stroke-linejoin="miter"/>
<path d="M455.4,508.5 L459.5,508.5 M457.3,508.5 L455.4,511.0 M456.6,510.4 L459.1,510.4 L459.1,512.2 L456.6,512.2 L456.6,510.4 " fill="none" stroke="#8a8a8a" stroke-width="0.55" stroke-linecap="square" stroke-linejoin="miter"/>
<path d="M440.7,517.2 L445.2,517.2 M441.1,518.2 L444.8,518.2 L444.8,521.1 M441.1,518.2 L441.1,521.3 M441.1,520.9 L444.8,520.9 M442.3,517.2 L442.3,519.7 L441.7,520.1 M443.6,517.2 L443.6,519.7 L444.0,520.1 " fill="none" stroke="#8a8a8a" stroke-width="0.55" stroke-linecap="square" stroke-linejoin="miter"/>
<path d="M455.4,517.4 L459.5,517.4 M457.3,517.4 L455.4,519.9 M456.6,519.3 L459.1,519.3 L459.1,521.1 L456.6,521.1 L456.6,519.3 " fill="none" stroke="#8a8a8a" stroke-width="0.55" stroke-linecap="square" stroke-linejoin="miter"/>
<path d="M655.2,486.8 L657.1,486.8 M656.1,485.6 L656.1,489.9 M656.1,487.0 L655.2,488.9 M656.2,487.3 L657.1,488.1 M657.7,486.0 L657.7,488.5 L657.3,489.7 M657.7,486.0 L658.9,486.0 L658.9,489.3 L659.7,489.7 L659.7,488.9 " fill="none" stroke="#8a8a8a" stroke-width="0.55" stroke-linecap="square" stroke-linejoin="miter"/>
<path d="M681.5,485.6 L681.5,489.7 M679.6,486.8 L679.6,489.7 M683.3,486.8 L683.3,489.7 M679.6,489.7 L683.3,489.7 " fill="none" stroke="#8a8a8a" stroke-width="0.55" stroke-linecap="square" stroke-linejoin="miter"/>
<path d="M691.2,486.8 L692.6,486.8 M691.9,485.6 L691.9,489.9 M691.9,487.0 L691.2,488.9 M692.0,487.3 L692.6,488.1 M692.8,486.8 L695.7,486.8 M694.5,485.4 L694.7,487.3 L695.7,489.7 L695.7,488.9 M695.5,487.7 L694.3,489.7 M693.1,487.9 L694.5,487.9 M693.3,486.8 L693.3,488.5 L692.8,489.7 M693.9,486.8 L693.9,489.3 M695.1,485.6 L695.5,485.8 " fill="none" stroke="#8a8a8a" stroke-width="0.55" stroke-linecap="square" stroke-linejoin="miter"/>
<path d="M702.4,486.0 L706.5,486.0 M704.3,486.0 L702.4,488.5 M703.6,487.9 L706.1,487.9 L706.1,489.7 L703.6,489.7 L703.6,487.9 " fill="none" stroke="#8a8a8a" stroke-width="0.55" stroke-linecap="square" stroke-linejoin="miter"/>
<path d="M714.2,487.3 L715.6,487.3 M714.9,486.0 L714.9,489.3 M714.2,489.5 L715.8,488.9 M716.1,486.4 L718.7,486.4 M716.3,486.4 L716.3,488.5 L715.8,489.7 M716.3,487.7 L717.3,487.7 L717.3,488.9 L716.9,488.7 M717.5,485.4 L717.7,487.7 L718.7,489.7 L718.7,488.9 M718.5,487.7 L717.1,489.7 M718.1,485.6 L718.5,485.8 " fill="none" stroke="#8a8a8a" stroke-width="0.55" stroke-linecap="square" stroke-linejoin="miter"/>
<path d="M726.4,486.0 L730.5,486.0 M728.3,486.0 L726.4,488.5 M727.6,487.9 L730.1,487.9 L730.1,489.7 L727.6,489.7 L727.6,487.9 " fill="none" stroke="#8a8a8a" stroke-width="0.55" stroke-linecap="square" stroke-linejoin="miter"/>
<path d="M738.2,486.0 L740.1,486.0 M739.0,486.0 L738.2,488.1 M738.6,487.7 L739.8,487.7 L739.8,489.3 L738.6,489.3 L738.6,487.7 M741.5,485.4 L741.7,486.0 M740.5,486.2 L742.7,486.2 M740.7,486.2 L740.7,488.5 L740.1,489.9 " fill="none" stroke="#8a8a8a" stroke-width="0.55" stroke-linecap="square" stroke-linejoin="miter"/>
<path d="M750.4,486.0 L751.0,486.4 M750.2,487.3 L750.8,487.7 M750.2,489.7 L751.0,488.3 M751.8,486.2 L754.5,486.2 M753.2,486.2 L753.2,489.5 M751.6,489.5 L754.7,489.5 " fill="none" stroke="#8a8a8a" stroke-width="0.55" stroke-linecap="square" stroke-linejoin="miter"/>
<path d="M655.2,496.6 L659.7,496.6 M655.6,497.6 L659.3,497.6 L659.3,500.5 M655.6,497.6 L655.6,500.7 M655.6,500.3 L659.3,500.3 M656.8,496.6 L656.8,499.1 L656.2,499.5 M658.1,496.6 L658.1,499.1 L658.5,499.5 " fill="none" stroke="#8a8a8a" stroke-width="0.55" stroke-linecap="square" stroke-linejoin="miter"/>
<path d="M681.5,496.4 L681.5,500.5 M679.6,497.6 L679.6,500.5 M683.3,497.6 L683.3,500.5 M679.6,500.5 L683.3,500.5 " fill="none" stroke="#8a8a8a" stroke-width="0.55" stroke-linecap="square" stroke-linejoin="miter"/>
<text x="665.5" y="501.6" font-family="Liberation Serif" font-size="6.5" fill="#888" stroke="#888" stroke-width="0.12" font-weight="normal" >01</text>
<path d="M594.1,448.1 L595.7,449.2 M593.5,451.3 L595.1,452.4 M593.5,457.7 L595.7,454.0 M597.8,448.7 L604.7,448.7 M601.2,448.7 L601.2,457.2 M597.3,457.2 L605.2,457.2 M608.0,447.6 L619.7,447.6 M609.1,450.3 L618.7,450.3 L618.7,457.7 M609.1,450.3 L609.1,458.2 M609.1,457.2 L618.7,457.2 M612.3,447.6 L612.3,454.0 L610.7,455.0 M615.5,447.6 L615.5,454.0 L616.5,455.0 M628.4,446.5 L628.4,449.7 M625.2,447.6 L626.3,449.2 M631.6,447.6 L630.5,449.2 M632.6,449.4 L624.1,452.4 M625.7,452.4 L632.1,452.4 L632.1,458.2 L625.7,458.2 L625.7,452.4 M625.7,454.5 L632.1,454.5 M625.7,456.6 L632.1,456.6 M637.6,448.1 L648.2,448.1 M642.3,448.1 L637.6,454.5 M640.8,452.9 L647.1,452.9 L647.1,457.7 L640.8,457.7 L640.8,452.9 M651.5,451.3 L655.3,451.3 M653.4,448.1 L653.4,456.6 M651.5,457.2 L655.8,455.6 M656.3,449.2 L663.2,449.2 M656.8,449.2 L656.8,454.5 L655.8,457.7 M656.8,452.4 L659.5,452.4 L659.5,455.6 L658.4,455.0 M660.0,446.5 L660.6,452.4 L663.2,457.7 L663.2,455.6 M662.7,452.4 L659.0,457.7 M661.6,447.1 L662.7,447.6 M666.0,448.1 L670.8,448.1 M668.2,448.1 L666.0,453.4 M667.1,452.4 L670.3,452.4 L670.3,456.6 L667.1,456.6 L667.1,452.4 M674.5,446.5 L675.1,448.1 M671.9,448.7 L677.7,448.7 M672.4,448.7 L672.4,454.5 L670.8,458.2 M686.4,447.1 L686.4,457.7 M681.6,450.3 L681.6,457.7 M691.2,450.3 L691.2,457.7 M681.6,457.7 L691.2,457.7 M695.0,450.3 L699.8,450.3 M697.4,447.1 L697.4,458.2 M697.4,450.8 L695.0,455.6 M697.7,451.3 L699.8,453.4 M701.4,448.1 L701.4,454.5 L700.3,457.7 M701.4,448.1 L704.6,448.1 L704.6,456.6 L706.7,457.7 L706.7,455.6 M709.5,450.3 L713.3,450.3 M711.4,447.1 L711.4,458.2 M711.4,450.8 L709.5,455.6 M711.7,451.3 L713.3,453.4 M713.8,450.3 L721.2,450.3 M718.0,446.5 L718.6,451.3 L721.2,457.7 L721.2,455.6 M720.7,452.4 L717.5,457.7 M714.3,452.9 L718.0,452.9 M714.8,450.3 L714.8,454.5 L713.8,457.7 M716.4,450.3 L716.4,456.6 M719.6,447.1 L720.7,447.6 M725.6,448.1 L735.7,448.1 M726.2,448.1 L726.2,453.4 L724.0,458.2 " fill="none" stroke="#3a3a3a" stroke-width="1.35" stroke-linecap="square" stroke-linejoin="miter"/>
<path d="M664.6,510.8 L665.6,511.4 M664.3,512.7 L665.3,513.4 M664.3,516.6 L665.6,514.3 M666.9,511.1 L671.1,511.1 M669.0,511.1 L669.0,516.3 M666.6,516.3 L671.4,516.3 M673.1,510.5 L680.2,510.5 M673.8,512.1 L679.6,512.1 L679.6,516.6 M673.8,512.1 L673.8,516.9 M673.8,516.3 L679.6,516.3 M675.7,510.5 L675.7,514.3 L674.7,515.0 M677.6,510.5 L677.6,514.3 L678.3,515.0 M685.5,509.8 L685.5,511.8 M683.5,510.5 L684.2,511.4 M687.4,510.5 L686.8,511.4 M688.1,511.6 L682.9,513.4 M683.9,513.4 L687.7,513.4 L687.7,516.9 L683.9,516.9 L683.9,513.4 M683.9,514.7 L687.7,514.7 M683.9,516.0 L687.7,516.0 M691.0,510.8 L697.5,510.8 M693.9,510.8 L691.0,514.7 M693.0,513.7 L696.9,513.7 L696.9,516.6 L693.0,516.6 L693.0,513.7 M699.5,512.7 L701.8,512.7 M700.7,510.8 L700.7,516.0 M699.5,516.3 L702.1,515.3 M702.4,511.4 L706.6,511.4 M702.7,511.4 L702.7,514.7 L702.1,516.6 M702.7,513.4 L704.4,513.4 L704.4,515.3 L703.7,515.0 M704.7,509.8 L705.0,513.4 L706.6,516.6 L706.6,515.3 M706.3,513.4 L704.0,516.6 M705.7,510.1 L706.3,510.5 M708.3,510.8 L711.2,510.8 M709.6,510.8 L708.3,514.0 M709.0,513.4 L710.9,513.4 L710.9,516.0 L709.0,516.0 L709.0,513.4 M713.5,509.8 L713.8,510.8 M711.9,511.1 L715.4,511.1 M712.2,511.1 L712.2,514.7 L711.2,516.9 M720.7,510.1 L720.7,516.6 M717.8,512.1 L717.8,516.6 M723.6,512.1 L723.6,516.6 M717.8,516.6 L723.6,516.6 M725.9,512.1 L728.8,512.1 M727.4,510.1 L727.4,516.9 M727.4,512.4 L725.9,515.3 M727.5,512.7 L728.8,514.0 M729.8,510.8 L729.8,514.7 L729.1,516.6 M729.8,510.8 L731.7,510.8 L731.7,516.0 L733.0,516.6 L733.0,515.3 M734.7,512.1 L737.0,512.1 M735.9,510.1 L735.9,516.9 M735.9,512.4 L734.7,515.3 M736.0,512.7 L737.0,514.0 M737.3,512.1 L741.8,512.1 M739.9,509.8 L740.2,512.7 L741.8,516.6 L741.8,515.3 M741.5,513.4 L739.6,516.6 M737.6,513.7 L739.9,513.7 M737.9,512.1 L737.9,514.7 L737.3,516.6 M738.9,512.1 L738.9,516.0 M740.9,510.1 L741.5,510.5 M744.5,510.8 L750.6,510.8 M744.8,510.8 L744.8,514.0 L743.5,516.9 " fill="none" stroke="#777" stroke-width="0.80" stroke-linecap="square" stroke-linejoin="miter"/></svg></body></html>
